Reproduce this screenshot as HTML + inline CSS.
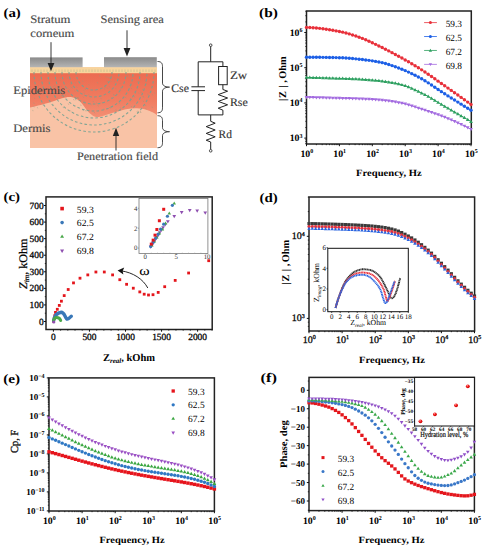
<!DOCTYPE html>
<html><head><meta charset="utf-8"><title>Skin impedance figure</title>
<style>
html,body{margin:0;padding:0;background:#fff;}
body{width:483px;height:550px;overflow:hidden;}
svg{display:block;font-family:"Liberation Serif", serif;text-rendering:geometricPrecision;}
</style></head>
<body>
<svg width="483" height="550" viewBox="0 0 483 550">
<rect width="483" height="550" fill="#fff"/>
<text x="3.5" y="16.6" font-size="13" font-weight="bold" textLength="17.3" lengthAdjust="spacingAndGlyphs">(a)</text>
<text x="30.2" y="23.1" font-size="11.5" fill="#484848" textLength="40.2" lengthAdjust="spacingAndGlyphs" stroke="#484848" stroke-width="0.15">Stratum</text>
<text x="30.3" y="36.6" font-size="11.5" fill="#484848" textLength="44" lengthAdjust="spacingAndGlyphs" stroke="#484848" stroke-width="0.15">corneum</text>
<text x="100.5" y="23.1" font-size="11.5" fill="#484848" textLength="63.2" lengthAdjust="spacingAndGlyphs" stroke="#484848" stroke-width="0.15">Sensing area</text>
<defs><linearGradient id="elg" x1="0" y1="0" x2="0" y2="1"><stop offset="0" stop-color="#8a8a8a"/><stop offset="1" stop-color="#b4b4b4"/></linearGradient><linearGradient id="epg" x1="0" y1="0" x2="0" y2="1"><stop offset="0" stop-color="#ec6c51"/><stop offset="0.6" stop-color="#f07c60"/><stop offset="1" stop-color="#f38e73"/></linearGradient><clipPath id="skinclip"><rect x="30" y="67.2" width="127" height="80.8"/></clipPath></defs>
<rect x="30" y="67.2" width="127" height="80.8" fill="#f9c3a6"/>
<path d="M30 73 L157 73 L157 115.2 C155.33 113.5 150.33 111 147 110 C143.67 109 140.5 108.33 137 108.2 C133.5 108.07 130 108.43 126 109.2 C122 109.97 117.17 111.6 113 112.8 C108.83 114 104.08 115.8 101 116.4 C97.92 117 96.67 117.22 94.5 116.4 C92.33 115.58 90.42 113.98 88 111.5 C85.58 109.02 82.83 103.9 80 101.5 C77.17 99.1 74 97.63 71 97.1 C68 96.57 65.83 97.32 62 98.3 C58.17 99.28 53.33 101.47 48 103 C42.67 104.53 33 106.75 30 107.5 Z" fill="url(#epg)"/>
<rect x="30" y="67.2" width="127" height="6" fill="#f8d49c"/>
<line x1="32" y1="69.5" x2="32" y2="72" stroke="#a8b890" stroke-width="0.6" opacity="0.8"/>
<line x1="35" y1="69.5" x2="35" y2="72" stroke="#a8b890" stroke-width="0.6" opacity="0.8"/>
<line x1="38" y1="69.5" x2="38" y2="72" stroke="#a8b890" stroke-width="0.6" opacity="0.8"/>
<line x1="41" y1="69.5" x2="41" y2="72" stroke="#a8b890" stroke-width="0.6" opacity="0.8"/>
<line x1="44" y1="69.5" x2="44" y2="72" stroke="#a8b890" stroke-width="0.6" opacity="0.8"/>
<line x1="47" y1="69.5" x2="47" y2="72" stroke="#a8b890" stroke-width="0.6" opacity="0.8"/>
<line x1="50" y1="69.5" x2="50" y2="72" stroke="#a8b890" stroke-width="0.6" opacity="0.8"/>
<line x1="53" y1="69.5" x2="53" y2="72" stroke="#a8b890" stroke-width="0.6" opacity="0.8"/>
<line x1="56" y1="69.5" x2="56" y2="72" stroke="#a8b890" stroke-width="0.6" opacity="0.8"/>
<line x1="59" y1="69.5" x2="59" y2="72" stroke="#a8b890" stroke-width="0.6" opacity="0.8"/>
<line x1="62" y1="69.5" x2="62" y2="72" stroke="#a8b890" stroke-width="0.6" opacity="0.8"/>
<line x1="65" y1="69.5" x2="65" y2="72" stroke="#a8b890" stroke-width="0.6" opacity="0.8"/>
<line x1="68" y1="69.5" x2="68" y2="72" stroke="#a8b890" stroke-width="0.6" opacity="0.8"/>
<line x1="71" y1="69.5" x2="71" y2="72" stroke="#a8b890" stroke-width="0.6" opacity="0.8"/>
<line x1="74" y1="69.5" x2="74" y2="72" stroke="#a8b890" stroke-width="0.6" opacity="0.8"/>
<line x1="77" y1="69.5" x2="77" y2="72" stroke="#a8b890" stroke-width="0.6" opacity="0.8"/>
<line x1="80" y1="69.5" x2="80" y2="72" stroke="#a8b890" stroke-width="0.6" opacity="0.8"/>
<line x1="83" y1="69.5" x2="83" y2="72" stroke="#a8b890" stroke-width="0.6" opacity="0.8"/>
<line x1="86" y1="69.5" x2="86" y2="72" stroke="#a8b890" stroke-width="0.6" opacity="0.8"/>
<line x1="89" y1="69.5" x2="89" y2="72" stroke="#a8b890" stroke-width="0.6" opacity="0.8"/>
<line x1="92" y1="69.5" x2="92" y2="72" stroke="#a8b890" stroke-width="0.6" opacity="0.8"/>
<line x1="95" y1="69.5" x2="95" y2="72" stroke="#a8b890" stroke-width="0.6" opacity="0.8"/>
<line x1="98" y1="69.5" x2="98" y2="72" stroke="#a8b890" stroke-width="0.6" opacity="0.8"/>
<line x1="101" y1="69.5" x2="101" y2="72" stroke="#a8b890" stroke-width="0.6" opacity="0.8"/>
<line x1="104" y1="69.5" x2="104" y2="72" stroke="#a8b890" stroke-width="0.6" opacity="0.8"/>
<line x1="107" y1="69.5" x2="107" y2="72" stroke="#a8b890" stroke-width="0.6" opacity="0.8"/>
<line x1="110" y1="69.5" x2="110" y2="72" stroke="#a8b890" stroke-width="0.6" opacity="0.8"/>
<line x1="113" y1="69.5" x2="113" y2="72" stroke="#a8b890" stroke-width="0.6" opacity="0.8"/>
<line x1="116" y1="69.5" x2="116" y2="72" stroke="#a8b890" stroke-width="0.6" opacity="0.8"/>
<line x1="119" y1="69.5" x2="119" y2="72" stroke="#a8b890" stroke-width="0.6" opacity="0.8"/>
<line x1="122" y1="69.5" x2="122" y2="72" stroke="#a8b890" stroke-width="0.6" opacity="0.8"/>
<line x1="125" y1="69.5" x2="125" y2="72" stroke="#a8b890" stroke-width="0.6" opacity="0.8"/>
<line x1="128" y1="69.5" x2="128" y2="72" stroke="#a8b890" stroke-width="0.6" opacity="0.8"/>
<line x1="131" y1="69.5" x2="131" y2="72" stroke="#a8b890" stroke-width="0.6" opacity="0.8"/>
<line x1="134" y1="69.5" x2="134" y2="72" stroke="#a8b890" stroke-width="0.6" opacity="0.8"/>
<line x1="137" y1="69.5" x2="137" y2="72" stroke="#a8b890" stroke-width="0.6" opacity="0.8"/>
<line x1="140" y1="69.5" x2="140" y2="72" stroke="#a8b890" stroke-width="0.6" opacity="0.8"/>
<line x1="143" y1="69.5" x2="143" y2="72" stroke="#a8b890" stroke-width="0.6" opacity="0.8"/>
<line x1="146" y1="69.5" x2="146" y2="72" stroke="#a8b890" stroke-width="0.6" opacity="0.8"/>
<line x1="149" y1="69.5" x2="149" y2="72" stroke="#a8b890" stroke-width="0.6" opacity="0.8"/>
<line x1="152" y1="69.5" x2="152" y2="72" stroke="#a8b890" stroke-width="0.6" opacity="0.8"/>
<line x1="155" y1="69.5" x2="155" y2="72" stroke="#a8b890" stroke-width="0.6" opacity="0.8"/>
<path d="M61.27 95.14l0.6 1.3 M77.5 97.35l0.6 1.3 M108.96 77.42l0.6 1.3 M33.62 105.99l0.6 1.3 M63.9 83.67l0.6 1.3 M154.46 92.4l0.6 1.3 M134.88 92.63l0.6 1.3 M110.61 80.57l0.6 1.3 M110.09 107.12l0.6 1.3 M96.35 102.43l0.6 1.3 M114.58 77.37l0.6 1.3 M125.26 96.87l0.6 1.3 M69.06 76.15l0.6 1.3 M138.46 92.49l0.6 1.3 M120.42 107.52l0.6 1.3 M119.84 109.08l0.6 1.3 M80.58 104.63l0.6 1.3 M86.69 109.62l0.6 1.3 M140.1 78.61l0.6 1.3 M48.72 83.03l0.6 1.3 M150.75 91.14l0.6 1.3 M109.08 86.14l0.6 1.3 M94.39 89.28l0.6 1.3 M75.16 96.65l0.6 1.3 M103.86 108.46l0.6 1.3 M115.88 109.37l0.6 1.3 M137.34 111.67l0.6 1.3 M114.57 81.03l0.6 1.3 M137.86 110.69l0.6 1.3 M143.28 96.06l0.6 1.3 M119.8 82.81l0.6 1.3 M134.29 96.22l0.6 1.3 M67.05 77.35l0.6 1.3 M137.03 111.62l0.6 1.3 M42.89 104.62l0.6 1.3 M82.49 80.58l0.6 1.3 M68.15 103.45l0.6 1.3 M139.35 76.64l0.6 1.3 M107.59 76.66l0.6 1.3 M120.37 87.25l0.6 1.3 M140.35 111.28l0.6 1.3 M94.17 111.94l0.6 1.3 M70.09 77.85l0.6 1.3 M105.77 76.16l0.6 1.3 M56.28 90.09l0.6 1.3 M107.09 80.78l0.6 1.3 M37.22 107.11l0.6 1.3 M70.6 110.47l0.6 1.3 M142.29 88.98l0.6 1.3 M88.63 94.24l0.6 1.3 M111.2 97.04l0.6 1.3 M100.79 97.94l0.6 1.3 M147.7 93.76l0.6 1.3 M85.04 101.65l0.6 1.3 M61.23 86.14l0.6 1.3 M152.27 94.28l0.6 1.3 M99.46 75.42l0.6 1.3 M83.07 96.46l0.6 1.3 M34.47 97.78l0.6 1.3 M109.76 77.22l0.6 1.3 M109.16 92.25l0.6 1.3 M115.55 88.05l0.6 1.3 M118.95 102.31l0.6 1.3 M34.73 77.24l0.6 1.3 M115.15 110.64l0.6 1.3 M62.89 91.88l0.6 1.3 M104.9 86.84l0.6 1.3 M76.77 86.57l0.6 1.3 M77.41 97.04l0.6 1.3 M68.95 88.95l0.6 1.3 M126.99 76l0.6 1.3 M102.02 102.2l0.6 1.3 M70.13 83.23l0.6 1.3 M130.87 83.83l0.6 1.3 M55.05 91.1l0.6 1.3 M117.86 78.77l0.6 1.3 M71.6 87.35l0.6 1.3 M134.53 91.22l0.6 1.3 M137.23 81.26l0.6 1.3 M73.42 99.06l0.6 1.3 M140.84 91.69l0.6 1.3 M59.68 79.47l0.6 1.3 M97.14 82.06l0.6 1.3 M131.23 106.02l0.6 1.3 M54.58 85.31l0.6 1.3 M131.29 98.75l0.6 1.3 M131.17 87.78l0.6 1.3 M47.95 85.8l0.6 1.3 M129.65 85.03l0.6 1.3 M74.6 90.43l0.6 1.3 M83.63 90.15l0.6 1.3 M145.24 80.77l0.6 1.3 M32.57 109.9l0.6 1.3 M140.24 111.52l0.6 1.3 M85.43 110.16l0.6 1.3 M146.07 83.22l0.6 1.3 M123.7 105.96l0.6 1.3 M113.55 94.2l0.6 1.3 M67.55 87.62l0.6 1.3 M59.98 77.52l0.6 1.3 M104.41 85.62l0.6 1.3 M131.65 76.67l0.6 1.3 M143.14 100.67l0.6 1.3 M145.63 108.17l0.6 1.3 M142.66 96.35l0.6 1.3 M33.62 102.58l0.6 1.3 M53.13 86.1l0.6 1.3 M113.54 94.42l0.6 1.3 M82.89 109.74l0.6 1.3 M107.3 87.63l0.6 1.3 M63.05 106.88l0.6 1.3 M90.7 103.95l0.6 1.3 M75.28 82.3l0.6 1.3 M97.76 105.22l0.6 1.3 M53.07 104.29l0.6 1.3 M145.38 104.82l0.6 1.3 M133.29 75.28l0.6 1.3 M109.32 106.91l0.6 1.3 M38.14 85.04l0.6 1.3 M65.04 94.51l0.6 1.3 M84.03 92.5l0.6 1.3 M127.51 75.07l0.6 1.3 M38.74 79.69l0.6 1.3 M47.33 77.53l0.6 1.3 M151.89 106.61l0.6 1.3 M42.59 93.58l0.6 1.3 M70.86 86.64l0.6 1.3 M75.21 98.94l0.6 1.3 M104.15 88.35l0.6 1.3 M55.5 87.16l0.6 1.3 M47.22 95.55l0.6 1.3 M120.07 89.07l0.6 1.3 M41.83 81.61l0.6 1.3 M77.91 97.36l0.6 1.3 M128.26 89.07l0.6 1.3 M130.54 98.05l0.6 1.3 M85.09 88.78l0.6 1.3 M93.03 101.01l0.6 1.3 M83.72 100.68l0.6 1.3 M88.68 84.07l0.6 1.3" stroke="#8e9a80" stroke-width="0.8" opacity="0.55" fill="none" clip-path="url(#skinclip)"/>
<path d="M76 72 A18 18 0 0 0 112 72" fill="none" stroke="#74a293" stroke-width="1.05" stroke-dasharray="2.6 2.3" opacity="0.9" clip-path="url(#skinclip)"/><path d="M69 72 A25 25 0 0 0 119 72" fill="none" stroke="#74a293" stroke-width="1.05" stroke-dasharray="2.6 2.3" opacity="0.9" clip-path="url(#skinclip)"/><path d="M62 72 A32 32 0 0 0 126 72" fill="none" stroke="#74a293" stroke-width="1.05" stroke-dasharray="2.6 2.3" opacity="0.9" clip-path="url(#skinclip)"/><path d="M55 72 A39 39 0 0 0 133 72" fill="none" stroke="#74a293" stroke-width="1.05" stroke-dasharray="2.6 2.3" opacity="0.9" clip-path="url(#skinclip)"/><path d="M48 72 A46 46 0 0 0 140 72" fill="none" stroke="#74a293" stroke-width="1.05" stroke-dasharray="2.6 2.3" opacity="0.9" clip-path="url(#skinclip)"/><path d="M41 72 A53 53 0 0 0 147 72" fill="none" stroke="#74a293" stroke-width="1.05" stroke-dasharray="2.6 2.3" opacity="0.9" clip-path="url(#skinclip)"/><path d="M34 72 A60 60 0 0 0 154 72" fill="none" stroke="#74a293" stroke-width="1.05" stroke-dasharray="2.6 2.3" opacity="0.9" clip-path="url(#skinclip)"/>
<rect x="30" y="57.4" width="52.6" height="9.8" fill="url(#elg)"/>
<rect x="104" y="57.2" width="52.8" height="10" fill="url(#elg)"/>
<line x1="51" y1="42.2" x2="51" y2="66" stroke="#222" stroke-width="0.9"/>
<path d="M47.6 63 L54.4 63 L51 71.3 Z" fill="#222"/>
<line x1="127" y1="30.3" x2="127" y2="50" stroke="#222" stroke-width="0.9"/>
<path d="M123.6 48 L130.4 48 L127 56.6 Z" fill="#222"/>
<line x1="116" y1="134" x2="116" y2="150.5" stroke="#222" stroke-width="0.9"/>
<path d="M112.8 136 L119.2 136 L116 127.8 Z" fill="#222"/>
<text x="13.2" y="94.1" font-size="11.5" fill="#484848" textLength="52" lengthAdjust="spacingAndGlyphs" stroke="#484848" stroke-width="0.15">Epidermis</text>
<text x="13.2" y="131.7" font-size="11.5" fill="#484848" textLength="37.3" lengthAdjust="spacingAndGlyphs" stroke="#484848" stroke-width="0.15">Dermis</text>
<text x="76.9" y="160.4" font-size="11.5" fill="#484848" textLength="81.2" lengthAdjust="spacingAndGlyphs" stroke="#484848" stroke-width="0.15">Penetration field</text>
<path d="M157.5 61.5 C161.5 61.5 162.5 63.5 162.5 66.5 L162.5 83.15 C162.5 86.15 166.5 87.15 169.5 87.15 C166.5 87.15 162.5 88.15 162.5 91.15 L162.5 107.8 C162.5 110.8 161.5 112.8 157.5 112.8" fill="none" stroke="#333" stroke-width="0.9"/>
<path d="M157.5 115.7 C161.5 115.7 162.5 117.7 162.5 120.7 L162.5 127.69999999999999 C162.5 130.7 166.5 131.7 169.5 131.7 C166.5 131.7 162.5 132.7 162.5 135.7 L162.5 142.7 C162.5 145.7 161.5 147.7 157.5 147.7" fill="none" stroke="#333" stroke-width="0.9"/>
<text x="171.3" y="92.1" font-size="11.5" fill="#333" textLength="17.6" lengthAdjust="spacingAndGlyphs" stroke="#333" stroke-width="0.15">Cse</text>
<circle cx="210.7" cy="45.2" r="1.3" fill="white" stroke="#222" stroke-width="0.8"/>
<line x1="210.7" y1="46.5" x2="210.7" y2="61.8" stroke="#222" stroke-width="1.0"/>
<line x1="198.2" y1="61.8" x2="222.9" y2="61.8" stroke="#222" stroke-width="1.0"/>
<line x1="198.2" y1="61.8" x2="198.2" y2="86.8" stroke="#222" stroke-width="1.0"/>
<line x1="198.2" y1="90.6" x2="198.2" y2="114.9" stroke="#222" stroke-width="1.0"/>
<line x1="191.4" y1="86.8" x2="205" y2="86.8" stroke="#222" stroke-width="1.0"/>
<line x1="191.4" y1="90.6" x2="205" y2="90.6" stroke="#222" stroke-width="1.0"/>
<line x1="222.9" y1="61.8" x2="222.9" y2="66.5" stroke="#222" stroke-width="1.0"/>
<rect x="218.6" y="66.5" width="8.6" height="18.2" fill="none" stroke="#222" stroke-width="1.0"/>
<line x1="222.9" y1="84.7" x2="222.9" y2="89.5" stroke="#222" stroke-width="1.0"/>
<path d="M222.9 89.5 L227.6 91.2 L218.2 94.6 L227.6 98.0 L218.2 101.4 L227.6 104.8 L218.2 108.2 L222.9 110.2" fill="none" stroke="#222" stroke-width="1.0"/>
<line x1="222.9" y1="110.2" x2="222.9" y2="114.9" stroke="#222" stroke-width="1.0"/>
<line x1="198.2" y1="114.9" x2="222.9" y2="114.9" stroke="#222" stroke-width="1.0"/>
<line x1="210.7" y1="114.9" x2="210.7" y2="121.3" stroke="#222" stroke-width="1.0"/>
<path d="M210.7 121.3 L215.2 123.2 L206.2 126.6 L215.2 130.0 L206.2 133.4 L215.2 136.8 L206.2 140.2 L210.7 142.0" fill="none" stroke="#222" stroke-width="1.0"/>
<line x1="210.7" y1="142" x2="210.7" y2="149.5" stroke="#222" stroke-width="1.0"/>
<circle cx="210.7" cy="150.8" r="1.3" fill="white" stroke="#222" stroke-width="0.8"/>
<text x="229.9" y="79.3" font-size="11.5" fill="#333" textLength="17.3" lengthAdjust="spacingAndGlyphs" stroke="#333" stroke-width="0.15">Zw</text>
<text x="229.9" y="106.3" font-size="11.5" fill="#333" textLength="17.8" lengthAdjust="spacingAndGlyphs" stroke="#333" stroke-width="0.15">Rse</text>
<text x="218.6" y="138" font-size="11.5" fill="#333" textLength="13.4" lengthAdjust="spacingAndGlyphs" stroke="#333" stroke-width="0.15">Rd</text>
<text x="259.1" y="16.8" font-size="13" font-weight="bold" textLength="18.8" lengthAdjust="spacingAndGlyphs">(b)</text>
<rect x="306.5" y="11" width="164.8" height="133" fill="none" stroke="#222" stroke-width="1.5"/>
<line x1="306.5" y1="144" x2="306.5" y2="146.2" stroke="#111" stroke-width="1"/>
<line x1="316.4" y1="144" x2="316.4" y2="145.2" stroke="#111" stroke-width="0.8"/>
<line x1="322.2" y1="144" x2="322.2" y2="145.2" stroke="#111" stroke-width="0.8"/>
<line x1="326.31" y1="144" x2="326.31" y2="145.2" stroke="#111" stroke-width="0.8"/>
<line x1="329.5" y1="144" x2="329.5" y2="145.2" stroke="#111" stroke-width="0.8"/>
<line x1="332.1" y1="144" x2="332.1" y2="145.2" stroke="#111" stroke-width="0.8"/>
<line x1="334.3" y1="144" x2="334.3" y2="145.2" stroke="#111" stroke-width="0.8"/>
<line x1="336.21" y1="144" x2="336.21" y2="145.2" stroke="#111" stroke-width="0.8"/>
<line x1="337.89" y1="144" x2="337.89" y2="145.2" stroke="#111" stroke-width="0.8"/>
<line x1="339.4" y1="144" x2="339.4" y2="146.2" stroke="#111" stroke-width="1"/>
<line x1="349.3" y1="144" x2="349.3" y2="145.2" stroke="#111" stroke-width="0.8"/>
<line x1="355.1" y1="144" x2="355.1" y2="145.2" stroke="#111" stroke-width="0.8"/>
<line x1="359.21" y1="144" x2="359.21" y2="145.2" stroke="#111" stroke-width="0.8"/>
<line x1="362.4" y1="144" x2="362.4" y2="145.2" stroke="#111" stroke-width="0.8"/>
<line x1="365" y1="144" x2="365" y2="145.2" stroke="#111" stroke-width="0.8"/>
<line x1="367.2" y1="144" x2="367.2" y2="145.2" stroke="#111" stroke-width="0.8"/>
<line x1="369.11" y1="144" x2="369.11" y2="145.2" stroke="#111" stroke-width="0.8"/>
<line x1="370.79" y1="144" x2="370.79" y2="145.2" stroke="#111" stroke-width="0.8"/>
<line x1="372.3" y1="144" x2="372.3" y2="146.2" stroke="#111" stroke-width="1"/>
<line x1="382.2" y1="144" x2="382.2" y2="145.2" stroke="#111" stroke-width="0.8"/>
<line x1="388" y1="144" x2="388" y2="145.2" stroke="#111" stroke-width="0.8"/>
<line x1="392.11" y1="144" x2="392.11" y2="145.2" stroke="#111" stroke-width="0.8"/>
<line x1="395.3" y1="144" x2="395.3" y2="145.2" stroke="#111" stroke-width="0.8"/>
<line x1="397.9" y1="144" x2="397.9" y2="145.2" stroke="#111" stroke-width="0.8"/>
<line x1="400.1" y1="144" x2="400.1" y2="145.2" stroke="#111" stroke-width="0.8"/>
<line x1="402.01" y1="144" x2="402.01" y2="145.2" stroke="#111" stroke-width="0.8"/>
<line x1="403.69" y1="144" x2="403.69" y2="145.2" stroke="#111" stroke-width="0.8"/>
<line x1="405.2" y1="144" x2="405.2" y2="146.2" stroke="#111" stroke-width="1"/>
<line x1="415.1" y1="144" x2="415.1" y2="145.2" stroke="#111" stroke-width="0.8"/>
<line x1="420.9" y1="144" x2="420.9" y2="145.2" stroke="#111" stroke-width="0.8"/>
<line x1="425.01" y1="144" x2="425.01" y2="145.2" stroke="#111" stroke-width="0.8"/>
<line x1="428.2" y1="144" x2="428.2" y2="145.2" stroke="#111" stroke-width="0.8"/>
<line x1="430.8" y1="144" x2="430.8" y2="145.2" stroke="#111" stroke-width="0.8"/>
<line x1="433" y1="144" x2="433" y2="145.2" stroke="#111" stroke-width="0.8"/>
<line x1="434.91" y1="144" x2="434.91" y2="145.2" stroke="#111" stroke-width="0.8"/>
<line x1="436.59" y1="144" x2="436.59" y2="145.2" stroke="#111" stroke-width="0.8"/>
<line x1="438.1" y1="144" x2="438.1" y2="146.2" stroke="#111" stroke-width="1"/>
<line x1="448" y1="144" x2="448" y2="145.2" stroke="#111" stroke-width="0.8"/>
<line x1="453.8" y1="144" x2="453.8" y2="145.2" stroke="#111" stroke-width="0.8"/>
<line x1="457.91" y1="144" x2="457.91" y2="145.2" stroke="#111" stroke-width="0.8"/>
<line x1="461.1" y1="144" x2="461.1" y2="145.2" stroke="#111" stroke-width="0.8"/>
<line x1="463.7" y1="144" x2="463.7" y2="145.2" stroke="#111" stroke-width="0.8"/>
<line x1="465.9" y1="144" x2="465.9" y2="145.2" stroke="#111" stroke-width="0.8"/>
<line x1="467.81" y1="144" x2="467.81" y2="145.2" stroke="#111" stroke-width="0.8"/>
<line x1="469.49" y1="144" x2="469.49" y2="145.2" stroke="#111" stroke-width="0.8"/>
<line x1="471" y1="144" x2="471" y2="146.2" stroke="#111" stroke-width="1"/>
<line x1="305.3" y1="143.55" x2="306.5" y2="143.55" stroke="#111" stroke-width="0.8"/>
<line x1="305.3" y1="141.51" x2="306.5" y2="141.51" stroke="#111" stroke-width="0.8"/>
<line x1="305.3" y1="139.71" x2="306.5" y2="139.71" stroke="#111" stroke-width="0.8"/>
<line x1="304.3" y1="138.1" x2="306.5" y2="138.1" stroke="#111" stroke-width="1"/>
<line x1="305.3" y1="127.5" x2="306.5" y2="127.5" stroke="#111" stroke-width="0.8"/>
<line x1="305.3" y1="121.31" x2="306.5" y2="121.31" stroke="#111" stroke-width="0.8"/>
<line x1="305.3" y1="116.91" x2="306.5" y2="116.91" stroke="#111" stroke-width="0.8"/>
<line x1="305.3" y1="113.5" x2="306.5" y2="113.5" stroke="#111" stroke-width="0.8"/>
<line x1="305.3" y1="110.71" x2="306.5" y2="110.71" stroke="#111" stroke-width="0.8"/>
<line x1="305.3" y1="108.35" x2="306.5" y2="108.35" stroke="#111" stroke-width="0.8"/>
<line x1="305.3" y1="106.31" x2="306.5" y2="106.31" stroke="#111" stroke-width="0.8"/>
<line x1="305.3" y1="104.51" x2="306.5" y2="104.51" stroke="#111" stroke-width="0.8"/>
<line x1="304.3" y1="102.9" x2="306.5" y2="102.9" stroke="#111" stroke-width="1"/>
<line x1="305.3" y1="92.3" x2="306.5" y2="92.3" stroke="#111" stroke-width="0.8"/>
<line x1="305.3" y1="86.11" x2="306.5" y2="86.11" stroke="#111" stroke-width="0.8"/>
<line x1="305.3" y1="81.71" x2="306.5" y2="81.71" stroke="#111" stroke-width="0.8"/>
<line x1="305.3" y1="78.3" x2="306.5" y2="78.3" stroke="#111" stroke-width="0.8"/>
<line x1="305.3" y1="75.51" x2="306.5" y2="75.51" stroke="#111" stroke-width="0.8"/>
<line x1="305.3" y1="73.15" x2="306.5" y2="73.15" stroke="#111" stroke-width="0.8"/>
<line x1="305.3" y1="71.11" x2="306.5" y2="71.11" stroke="#111" stroke-width="0.8"/>
<line x1="305.3" y1="69.31" x2="306.5" y2="69.31" stroke="#111" stroke-width="0.8"/>
<line x1="304.3" y1="67.7" x2="306.5" y2="67.7" stroke="#111" stroke-width="1"/>
<line x1="305.3" y1="57.1" x2="306.5" y2="57.1" stroke="#111" stroke-width="0.8"/>
<line x1="305.3" y1="50.91" x2="306.5" y2="50.91" stroke="#111" stroke-width="0.8"/>
<line x1="305.3" y1="46.51" x2="306.5" y2="46.51" stroke="#111" stroke-width="0.8"/>
<line x1="305.3" y1="43.1" x2="306.5" y2="43.1" stroke="#111" stroke-width="0.8"/>
<line x1="305.3" y1="40.31" x2="306.5" y2="40.31" stroke="#111" stroke-width="0.8"/>
<line x1="305.3" y1="37.95" x2="306.5" y2="37.95" stroke="#111" stroke-width="0.8"/>
<line x1="305.3" y1="35.91" x2="306.5" y2="35.91" stroke="#111" stroke-width="0.8"/>
<line x1="305.3" y1="34.11" x2="306.5" y2="34.11" stroke="#111" stroke-width="0.8"/>
<line x1="304.3" y1="32.5" x2="306.5" y2="32.5" stroke="#111" stroke-width="1"/>
<line x1="305.3" y1="21.9" x2="306.5" y2="21.9" stroke="#111" stroke-width="0.8"/>
<line x1="305.3" y1="15.71" x2="306.5" y2="15.71" stroke="#111" stroke-width="0.8"/>
<line x1="305.3" y1="11.31" x2="306.5" y2="11.31" stroke="#111" stroke-width="0.8"/>
<text x="306.8" y="156.6" font-size="9.8" font-weight="bold" text-anchor="middle">10<tspan font-size="6" dy="-3.6">0</tspan></text>
<text x="339.7" y="156.6" font-size="9.8" font-weight="bold" text-anchor="middle">10<tspan font-size="6" dy="-3.6">1</tspan></text>
<text x="372.6" y="156.6" font-size="9.8" font-weight="bold" text-anchor="middle">10<tspan font-size="6" dy="-3.6">2</tspan></text>
<text x="405.5" y="156.6" font-size="9.8" font-weight="bold" text-anchor="middle">10<tspan font-size="6" dy="-3.6">3</tspan></text>
<text x="438.4" y="156.6" font-size="9.8" font-weight="bold" text-anchor="middle">10<tspan font-size="6" dy="-3.6">4</tspan></text>
<text x="471.3" y="156.6" font-size="9.8" font-weight="bold" text-anchor="middle">10<tspan font-size="6" dy="-3.6">5</tspan></text>
<text x="302.5" y="35.5" font-size="9.8" font-weight="bold" text-anchor="end">10<tspan font-size="6" dy="-3.6">6</tspan></text>
<text x="302.5" y="70.7" font-size="9.8" font-weight="bold" text-anchor="end">10<tspan font-size="6" dy="-3.6">5</tspan></text>
<text x="302.5" y="105.9" font-size="9.8" font-weight="bold" text-anchor="end">10<tspan font-size="6" dy="-3.6">4</tspan></text>
<text x="302.5" y="141.1" font-size="9.8" font-weight="bold" text-anchor="end">10<tspan font-size="6" dy="-3.6">3</tspan></text>
<text x="356.1" y="175.6" font-size="9.5" font-weight="bold" textLength="65.7" lengthAdjust="spacingAndGlyphs">Frequency, Hz</text>
<text x="285.9" y="100.9" font-size="10.3" font-weight="bold" transform="rotate(-90 285.9 100.9)">|<tspan dx="0.6">Z</tspan><tspan dx="3.4">|</tspan><tspan dx="2.6">,</tspan><tspan dx="1.5">Ohm</tspan></text>
<path d="M306.5 27.4 L309.79 27.51 L313.08 27.71 L316.37 28 L319.66 28.36 L322.95 28.78 L326.24 29.25 L329.53 29.77 L332.82 30.32 L336.11 30.9 L339.4 31.49 L342.69 32.15 L345.98 32.96 L349.27 33.89 L352.56 34.93 L355.85 36.04 L359.14 37.19 L362.43 38.41 L365.72 39.76 L369.01 41.22 L372.3 42.76 L375.59 44.35 L378.88 45.96 L382.17 47.56 L385.46 49.22 L388.75 50.92 L392.04 52.66 L395.33 54.43 L398.62 56.24 L401.91 58.07 L405.2 59.93 L408.49 61.82 L411.78 63.76 L415.07 65.74 L418.36 67.77 L421.65 69.86 L424.94 72.02 L428.23 74.24 L431.52 76.51 L434.81 78.81 L438.1 81.14 L441.39 83.46 L444.68 85.78 L447.97 88.08 L451.26 90.39 L454.55 92.72 L457.84 95.05 L461.13 97.4 L464.42 99.75 L467.71 102.11 L471 104.48" fill="none" stroke="#e8303a" stroke-width="1"/>
<circle cx="306.5" cy="27.4" r="1.7" fill="#e8303a"/>
<circle cx="309.79" cy="27.51" r="1.7" fill="#e8303a"/>
<circle cx="313.08" cy="27.71" r="1.7" fill="#e8303a"/>
<circle cx="316.37" cy="28" r="1.7" fill="#e8303a"/>
<circle cx="319.66" cy="28.36" r="1.7" fill="#e8303a"/>
<circle cx="322.95" cy="28.78" r="1.7" fill="#e8303a"/>
<circle cx="326.24" cy="29.25" r="1.7" fill="#e8303a"/>
<circle cx="329.53" cy="29.77" r="1.7" fill="#e8303a"/>
<circle cx="332.82" cy="30.32" r="1.7" fill="#e8303a"/>
<circle cx="336.11" cy="30.9" r="1.7" fill="#e8303a"/>
<circle cx="339.4" cy="31.49" r="1.7" fill="#e8303a"/>
<circle cx="342.69" cy="32.15" r="1.7" fill="#e8303a"/>
<circle cx="345.98" cy="32.96" r="1.7" fill="#e8303a"/>
<circle cx="349.27" cy="33.89" r="1.7" fill="#e8303a"/>
<circle cx="352.56" cy="34.93" r="1.7" fill="#e8303a"/>
<circle cx="355.85" cy="36.04" r="1.7" fill="#e8303a"/>
<circle cx="359.14" cy="37.19" r="1.7" fill="#e8303a"/>
<circle cx="362.43" cy="38.41" r="1.7" fill="#e8303a"/>
<circle cx="365.72" cy="39.76" r="1.7" fill="#e8303a"/>
<circle cx="369.01" cy="41.22" r="1.7" fill="#e8303a"/>
<circle cx="372.3" cy="42.76" r="1.7" fill="#e8303a"/>
<circle cx="375.59" cy="44.35" r="1.7" fill="#e8303a"/>
<circle cx="378.88" cy="45.96" r="1.7" fill="#e8303a"/>
<circle cx="382.17" cy="47.56" r="1.7" fill="#e8303a"/>
<circle cx="385.46" cy="49.22" r="1.7" fill="#e8303a"/>
<circle cx="388.75" cy="50.92" r="1.7" fill="#e8303a"/>
<circle cx="392.04" cy="52.66" r="1.7" fill="#e8303a"/>
<circle cx="395.33" cy="54.43" r="1.7" fill="#e8303a"/>
<circle cx="398.62" cy="56.24" r="1.7" fill="#e8303a"/>
<circle cx="401.91" cy="58.07" r="1.7" fill="#e8303a"/>
<circle cx="405.2" cy="59.93" r="1.7" fill="#e8303a"/>
<circle cx="408.49" cy="61.82" r="1.7" fill="#e8303a"/>
<circle cx="411.78" cy="63.76" r="1.7" fill="#e8303a"/>
<circle cx="415.07" cy="65.74" r="1.7" fill="#e8303a"/>
<circle cx="418.36" cy="67.77" r="1.7" fill="#e8303a"/>
<circle cx="421.65" cy="69.86" r="1.7" fill="#e8303a"/>
<circle cx="424.94" cy="72.02" r="1.7" fill="#e8303a"/>
<circle cx="428.23" cy="74.24" r="1.7" fill="#e8303a"/>
<circle cx="431.52" cy="76.51" r="1.7" fill="#e8303a"/>
<circle cx="434.81" cy="78.81" r="1.7" fill="#e8303a"/>
<circle cx="438.1" cy="81.14" r="1.7" fill="#e8303a"/>
<circle cx="441.39" cy="83.46" r="1.7" fill="#e8303a"/>
<circle cx="444.68" cy="85.78" r="1.7" fill="#e8303a"/>
<circle cx="447.97" cy="88.08" r="1.7" fill="#e8303a"/>
<circle cx="451.26" cy="90.39" r="1.7" fill="#e8303a"/>
<circle cx="454.55" cy="92.72" r="1.7" fill="#e8303a"/>
<circle cx="457.84" cy="95.05" r="1.7" fill="#e8303a"/>
<circle cx="461.13" cy="97.4" r="1.7" fill="#e8303a"/>
<circle cx="464.42" cy="99.75" r="1.7" fill="#e8303a"/>
<circle cx="467.71" cy="102.11" r="1.7" fill="#e8303a"/>
<circle cx="471" cy="104.48" r="1.7" fill="#e8303a"/>
<path d="M306.5 57.2 L309.79 57.21 L313.08 57.22 L316.37 57.25 L319.66 57.29 L322.95 57.33 L326.24 57.39 L329.53 57.45 L332.82 57.52 L336.11 57.6 L339.4 57.68 L342.69 57.8 L345.98 57.99 L349.27 58.25 L352.56 58.54 L355.85 58.87 L359.14 59.21 L362.43 59.56 L365.72 59.94 L369.01 60.37 L372.3 60.85 L375.59 61.39 L378.88 61.98 L382.17 62.67 L385.46 63.52 L388.75 64.5 L392.04 65.59 L395.33 66.76 L398.62 67.98 L401.91 69.24 L405.2 70.61 L408.49 72.08 L411.78 73.65 L415.07 75.3 L418.36 77.02 L421.65 78.81 L424.94 80.76 L428.23 82.83 L431.52 85 L434.81 87.21 L438.1 89.44 L441.39 91.65 L444.68 93.8 L447.97 95.89 L451.26 97.97 L454.55 100.04 L457.84 102.11 L461.13 104.17 L464.42 106.23 L467.71 108.27 L471 110.31" fill="none" stroke="#1c5fe6" stroke-width="1"/>
<circle cx="306.5" cy="57.2" r="1.7" fill="#1c5fe6"/>
<circle cx="309.79" cy="57.21" r="1.7" fill="#1c5fe6"/>
<circle cx="313.08" cy="57.22" r="1.7" fill="#1c5fe6"/>
<circle cx="316.37" cy="57.25" r="1.7" fill="#1c5fe6"/>
<circle cx="319.66" cy="57.29" r="1.7" fill="#1c5fe6"/>
<circle cx="322.95" cy="57.33" r="1.7" fill="#1c5fe6"/>
<circle cx="326.24" cy="57.39" r="1.7" fill="#1c5fe6"/>
<circle cx="329.53" cy="57.45" r="1.7" fill="#1c5fe6"/>
<circle cx="332.82" cy="57.52" r="1.7" fill="#1c5fe6"/>
<circle cx="336.11" cy="57.6" r="1.7" fill="#1c5fe6"/>
<circle cx="339.4" cy="57.68" r="1.7" fill="#1c5fe6"/>
<circle cx="342.69" cy="57.8" r="1.7" fill="#1c5fe6"/>
<circle cx="345.98" cy="57.99" r="1.7" fill="#1c5fe6"/>
<circle cx="349.27" cy="58.25" r="1.7" fill="#1c5fe6"/>
<circle cx="352.56" cy="58.54" r="1.7" fill="#1c5fe6"/>
<circle cx="355.85" cy="58.87" r="1.7" fill="#1c5fe6"/>
<circle cx="359.14" cy="59.21" r="1.7" fill="#1c5fe6"/>
<circle cx="362.43" cy="59.56" r="1.7" fill="#1c5fe6"/>
<circle cx="365.72" cy="59.94" r="1.7" fill="#1c5fe6"/>
<circle cx="369.01" cy="60.37" r="1.7" fill="#1c5fe6"/>
<circle cx="372.3" cy="60.85" r="1.7" fill="#1c5fe6"/>
<circle cx="375.59" cy="61.39" r="1.7" fill="#1c5fe6"/>
<circle cx="378.88" cy="61.98" r="1.7" fill="#1c5fe6"/>
<circle cx="382.17" cy="62.67" r="1.7" fill="#1c5fe6"/>
<circle cx="385.46" cy="63.52" r="1.7" fill="#1c5fe6"/>
<circle cx="388.75" cy="64.5" r="1.7" fill="#1c5fe6"/>
<circle cx="392.04" cy="65.59" r="1.7" fill="#1c5fe6"/>
<circle cx="395.33" cy="66.76" r="1.7" fill="#1c5fe6"/>
<circle cx="398.62" cy="67.98" r="1.7" fill="#1c5fe6"/>
<circle cx="401.91" cy="69.24" r="1.7" fill="#1c5fe6"/>
<circle cx="405.2" cy="70.61" r="1.7" fill="#1c5fe6"/>
<circle cx="408.49" cy="72.08" r="1.7" fill="#1c5fe6"/>
<circle cx="411.78" cy="73.65" r="1.7" fill="#1c5fe6"/>
<circle cx="415.07" cy="75.3" r="1.7" fill="#1c5fe6"/>
<circle cx="418.36" cy="77.02" r="1.7" fill="#1c5fe6"/>
<circle cx="421.65" cy="78.81" r="1.7" fill="#1c5fe6"/>
<circle cx="424.94" cy="80.76" r="1.7" fill="#1c5fe6"/>
<circle cx="428.23" cy="82.83" r="1.7" fill="#1c5fe6"/>
<circle cx="431.52" cy="85" r="1.7" fill="#1c5fe6"/>
<circle cx="434.81" cy="87.21" r="1.7" fill="#1c5fe6"/>
<circle cx="438.1" cy="89.44" r="1.7" fill="#1c5fe6"/>
<circle cx="441.39" cy="91.65" r="1.7" fill="#1c5fe6"/>
<circle cx="444.68" cy="93.8" r="1.7" fill="#1c5fe6"/>
<circle cx="447.97" cy="95.89" r="1.7" fill="#1c5fe6"/>
<circle cx="451.26" cy="97.97" r="1.7" fill="#1c5fe6"/>
<circle cx="454.55" cy="100.04" r="1.7" fill="#1c5fe6"/>
<circle cx="457.84" cy="102.11" r="1.7" fill="#1c5fe6"/>
<circle cx="461.13" cy="104.17" r="1.7" fill="#1c5fe6"/>
<circle cx="464.42" cy="106.23" r="1.7" fill="#1c5fe6"/>
<circle cx="467.71" cy="108.27" r="1.7" fill="#1c5fe6"/>
<circle cx="471" cy="110.31" r="1.7" fill="#1c5fe6"/>
<path d="M306.5 77.4 L309.79 77.48 L313.08 77.56 L316.37 77.65 L319.66 77.75 L322.95 77.84 L326.24 77.95 L329.53 78.05 L332.82 78.16 L336.11 78.27 L339.4 78.38 L342.69 78.49 L345.98 78.61 L349.27 78.72 L352.56 78.85 L355.85 78.99 L359.14 79.15 L362.43 79.34 L365.72 79.55 L369.01 79.8 L372.3 80.07 L375.59 80.38 L378.88 80.72 L382.17 81.09 L385.46 81.52 L388.75 82.02 L392.04 82.59 L395.33 83.23 L398.62 83.95 L401.91 84.75 L405.2 85.71 L408.49 86.91 L411.78 88.3 L415.07 89.81 L418.36 91.41 L421.65 93.03 L424.94 94.68 L428.23 96.47 L431.52 98.38 L434.81 100.35 L438.1 102.36 L441.39 104.36 L444.68 106.31 L447.97 108.22 L451.26 110.13 L454.55 112.03 L457.84 113.93 L461.13 115.83 L464.42 117.73 L467.71 119.63 L471 121.53" fill="none" stroke="#2ea060" stroke-width="1"/>
<path d="M306.5 75.53L308.37 78.76L304.63 78.76Z" fill="#2ea060"/>
<path d="M309.79 75.61L311.66 78.84L307.92 78.84Z" fill="#2ea060"/>
<path d="M313.08 75.69L314.95 78.92L311.21 78.92Z" fill="#2ea060"/>
<path d="M316.37 75.78L318.24 79.01L314.5 79.01Z" fill="#2ea060"/>
<path d="M319.66 75.88L321.53 79.11L317.79 79.11Z" fill="#2ea060"/>
<path d="M322.95 75.97L324.82 79.2L321.08 79.2Z" fill="#2ea060"/>
<path d="M326.24 76.08L328.11 79.31L324.37 79.31Z" fill="#2ea060"/>
<path d="M329.53 76.18L331.4 79.41L327.66 79.41Z" fill="#2ea060"/>
<path d="M332.82 76.29L334.69 79.52L330.95 79.52Z" fill="#2ea060"/>
<path d="M336.11 76.4L337.98 79.63L334.24 79.63Z" fill="#2ea060"/>
<path d="M339.4 76.51L341.27 79.74L337.53 79.74Z" fill="#2ea060"/>
<path d="M342.69 76.62L344.56 79.85L340.82 79.85Z" fill="#2ea060"/>
<path d="M345.98 76.74L347.85 79.97L344.11 79.97Z" fill="#2ea060"/>
<path d="M349.27 76.85L351.14 80.08L347.4 80.08Z" fill="#2ea060"/>
<path d="M352.56 76.98L354.43 80.21L350.69 80.21Z" fill="#2ea060"/>
<path d="M355.85 77.12L357.72 80.35L353.98 80.35Z" fill="#2ea060"/>
<path d="M359.14 77.28L361.01 80.51L357.27 80.51Z" fill="#2ea060"/>
<path d="M362.43 77.47L364.3 80.7L360.56 80.7Z" fill="#2ea060"/>
<path d="M365.72 77.68L367.59 80.91L363.85 80.91Z" fill="#2ea060"/>
<path d="M369.01 77.93L370.88 81.16L367.14 81.16Z" fill="#2ea060"/>
<path d="M372.3 78.2L374.17 81.43L370.43 81.43Z" fill="#2ea060"/>
<path d="M375.59 78.51L377.46 81.74L373.72 81.74Z" fill="#2ea060"/>
<path d="M378.88 78.85L380.75 82.08L377.01 82.08Z" fill="#2ea060"/>
<path d="M382.17 79.22L384.04 82.45L380.3 82.45Z" fill="#2ea060"/>
<path d="M385.46 79.65L387.33 82.88L383.59 82.88Z" fill="#2ea060"/>
<path d="M388.75 80.15L390.62 83.38L386.88 83.38Z" fill="#2ea060"/>
<path d="M392.04 80.72L393.91 83.95L390.17 83.95Z" fill="#2ea060"/>
<path d="M395.33 81.36L397.2 84.59L393.46 84.59Z" fill="#2ea060"/>
<path d="M398.62 82.08L400.49 85.31L396.75 85.31Z" fill="#2ea060"/>
<path d="M401.91 82.88L403.78 86.11L400.04 86.11Z" fill="#2ea060"/>
<path d="M405.2 83.84L407.07 87.07L403.33 87.07Z" fill="#2ea060"/>
<path d="M408.49 85.04L410.36 88.27L406.62 88.27Z" fill="#2ea060"/>
<path d="M411.78 86.43L413.65 89.66L409.91 89.66Z" fill="#2ea060"/>
<path d="M415.07 87.94L416.94 91.17L413.2 91.17Z" fill="#2ea060"/>
<path d="M418.36 89.54L420.23 92.77L416.49 92.77Z" fill="#2ea060"/>
<path d="M421.65 91.16L423.52 94.39L419.78 94.39Z" fill="#2ea060"/>
<path d="M424.94 92.81L426.81 96.04L423.07 96.04Z" fill="#2ea060"/>
<path d="M428.23 94.6L430.1 97.83L426.36 97.83Z" fill="#2ea060"/>
<path d="M431.52 96.51L433.39 99.74L429.65 99.74Z" fill="#2ea060"/>
<path d="M434.81 98.48L436.68 101.71L432.94 101.71Z" fill="#2ea060"/>
<path d="M438.1 100.49L439.97 103.72L436.23 103.72Z" fill="#2ea060"/>
<path d="M441.39 102.49L443.26 105.72L439.52 105.72Z" fill="#2ea060"/>
<path d="M444.68 104.44L446.55 107.67L442.81 107.67Z" fill="#2ea060"/>
<path d="M447.97 106.35L449.84 109.58L446.1 109.58Z" fill="#2ea060"/>
<path d="M451.26 108.26L453.13 111.49L449.39 111.49Z" fill="#2ea060"/>
<path d="M454.55 110.16L456.42 113.39L452.68 113.39Z" fill="#2ea060"/>
<path d="M457.84 112.06L459.71 115.29L455.97 115.29Z" fill="#2ea060"/>
<path d="M461.13 113.96L463 117.19L459.26 117.19Z" fill="#2ea060"/>
<path d="M464.42 115.86L466.29 119.09L462.55 119.09Z" fill="#2ea060"/>
<path d="M467.71 117.76L469.58 120.99L465.84 120.99Z" fill="#2ea060"/>
<path d="M471 119.66L472.87 122.89L469.13 122.89Z" fill="#2ea060"/>
<path d="M306.5 97.3 L309.79 97.38 L313.08 97.47 L316.37 97.55 L319.66 97.64 L322.95 97.73 L326.24 97.82 L329.53 97.91 L332.82 98 L336.11 98.09 L339.4 98.18 L342.69 98.27 L345.98 98.36 L349.27 98.45 L352.56 98.54 L355.85 98.65 L359.14 98.77 L362.43 98.9 L365.72 99.05 L369.01 99.23 L372.3 99.42 L375.59 99.64 L378.88 99.89 L382.17 100.17 L385.46 100.51 L388.75 100.92 L392.04 101.4 L395.33 101.94 L398.62 102.53 L401.91 103.16 L405.2 103.9 L408.49 104.8 L411.78 105.81 L415.07 106.89 L418.36 108.01 L421.65 109.12 L424.94 110.2 L428.23 111.28 L431.52 112.38 L434.81 113.52 L438.1 114.68 L441.39 115.9 L444.68 117.17 L447.97 118.51 L451.26 119.9 L454.55 121.34 L457.84 122.84 L461.13 124.39 L464.42 125.99 L467.71 127.64 L471 129.34" fill="none" stroke="#a36be0" stroke-width="1"/>
<path d="M306.5 99.17L308.37 95.94L304.63 95.94Z" fill="#a36be0"/>
<path d="M309.79 99.25L311.66 96.02L307.92 96.02Z" fill="#a36be0"/>
<path d="M313.08 99.34L314.95 96.11L311.21 96.11Z" fill="#a36be0"/>
<path d="M316.37 99.42L318.24 96.19L314.5 96.19Z" fill="#a36be0"/>
<path d="M319.66 99.51L321.53 96.28L317.79 96.28Z" fill="#a36be0"/>
<path d="M322.95 99.6L324.82 96.37L321.08 96.37Z" fill="#a36be0"/>
<path d="M326.24 99.69L328.11 96.46L324.37 96.46Z" fill="#a36be0"/>
<path d="M329.53 99.78L331.4 96.55L327.66 96.55Z" fill="#a36be0"/>
<path d="M332.82 99.87L334.69 96.64L330.95 96.64Z" fill="#a36be0"/>
<path d="M336.11 99.96L337.98 96.73L334.24 96.73Z" fill="#a36be0"/>
<path d="M339.4 100.05L341.27 96.82L337.53 96.82Z" fill="#a36be0"/>
<path d="M342.69 100.14L344.56 96.91L340.82 96.91Z" fill="#a36be0"/>
<path d="M345.98 100.23L347.85 97L344.11 97Z" fill="#a36be0"/>
<path d="M349.27 100.32L351.14 97.09L347.4 97.09Z" fill="#a36be0"/>
<path d="M352.56 100.41L354.43 97.18L350.69 97.18Z" fill="#a36be0"/>
<path d="M355.85 100.52L357.72 97.29L353.98 97.29Z" fill="#a36be0"/>
<path d="M359.14 100.64L361.01 97.41L357.27 97.41Z" fill="#a36be0"/>
<path d="M362.43 100.77L364.3 97.54L360.56 97.54Z" fill="#a36be0"/>
<path d="M365.72 100.92L367.59 97.69L363.85 97.69Z" fill="#a36be0"/>
<path d="M369.01 101.1L370.88 97.87L367.14 97.87Z" fill="#a36be0"/>
<path d="M372.3 101.29L374.17 98.06L370.43 98.06Z" fill="#a36be0"/>
<path d="M375.59 101.51L377.46 98.28L373.72 98.28Z" fill="#a36be0"/>
<path d="M378.88 101.76L380.75 98.53L377.01 98.53Z" fill="#a36be0"/>
<path d="M382.17 102.04L384.04 98.81L380.3 98.81Z" fill="#a36be0"/>
<path d="M385.46 102.38L387.33 99.15L383.59 99.15Z" fill="#a36be0"/>
<path d="M388.75 102.79L390.62 99.56L386.88 99.56Z" fill="#a36be0"/>
<path d="M392.04 103.27L393.91 100.04L390.17 100.04Z" fill="#a36be0"/>
<path d="M395.33 103.81L397.2 100.58L393.46 100.58Z" fill="#a36be0"/>
<path d="M398.62 104.4L400.49 101.17L396.75 101.17Z" fill="#a36be0"/>
<path d="M401.91 105.03L403.78 101.8L400.04 101.8Z" fill="#a36be0"/>
<path d="M405.2 105.77L407.07 102.54L403.33 102.54Z" fill="#a36be0"/>
<path d="M408.49 106.67L410.36 103.44L406.62 103.44Z" fill="#a36be0"/>
<path d="M411.78 107.68L413.65 104.45L409.91 104.45Z" fill="#a36be0"/>
<path d="M415.07 108.76L416.94 105.53L413.2 105.53Z" fill="#a36be0"/>
<path d="M418.36 109.88L420.23 106.65L416.49 106.65Z" fill="#a36be0"/>
<path d="M421.65 110.99L423.52 107.76L419.78 107.76Z" fill="#a36be0"/>
<path d="M424.94 112.07L426.81 108.84L423.07 108.84Z" fill="#a36be0"/>
<path d="M428.23 113.15L430.1 109.92L426.36 109.92Z" fill="#a36be0"/>
<path d="M431.52 114.25L433.39 111.02L429.65 111.02Z" fill="#a36be0"/>
<path d="M434.81 115.39L436.68 112.16L432.94 112.16Z" fill="#a36be0"/>
<path d="M438.1 116.55L439.97 113.32L436.23 113.32Z" fill="#a36be0"/>
<path d="M441.39 117.77L443.26 114.54L439.52 114.54Z" fill="#a36be0"/>
<path d="M444.68 119.04L446.55 115.81L442.81 115.81Z" fill="#a36be0"/>
<path d="M447.97 120.38L449.84 117.15L446.1 117.15Z" fill="#a36be0"/>
<path d="M451.26 121.77L453.13 118.54L449.39 118.54Z" fill="#a36be0"/>
<path d="M454.55 123.21L456.42 119.98L452.68 119.98Z" fill="#a36be0"/>
<path d="M457.84 124.71L459.71 121.48L455.97 121.48Z" fill="#a36be0"/>
<path d="M461.13 126.26L463 123.03L459.26 123.03Z" fill="#a36be0"/>
<path d="M464.42 127.86L466.29 124.63L462.55 124.63Z" fill="#a36be0"/>
<path d="M467.71 129.51L469.58 126.28L465.84 126.28Z" fill="#a36be0"/>
<path d="M471 131.21L472.87 127.98L469.13 127.98Z" fill="#a36be0"/>
<line x1="424.1" y1="22.6" x2="436.9" y2="22.6" stroke="#e8303a" stroke-width="0.8"/>
<circle cx="430.4" cy="22.6" r="1.5" fill="#e8303a"/>
<text x="445.7" y="26.9" font-size="9.5" textLength="16.3" lengthAdjust="spacingAndGlyphs">59.3</text>
<line x1="424.1" y1="36.53" x2="436.9" y2="36.53" stroke="#1c5fe6" stroke-width="0.8"/>
<circle cx="430.4" cy="36.53" r="1.5" fill="#1c5fe6"/>
<text x="445.7" y="40.8" font-size="9.5" textLength="16.3" lengthAdjust="spacingAndGlyphs">62.5</text>
<line x1="424.1" y1="50.46" x2="436.9" y2="50.46" stroke="#2ea060" stroke-width="0.8"/>
<path d="M430.4 48.81L432.05 51.66L428.75 51.66Z" fill="#2ea060"/>
<text x="445.7" y="54.7" font-size="9.5" textLength="16.3" lengthAdjust="spacingAndGlyphs">67.2</text>
<line x1="424.1" y1="64.39" x2="436.9" y2="64.39" stroke="#a36be0" stroke-width="0.8"/>
<path d="M430.4 66.04L432.05 63.19L428.75 63.19Z" fill="#a36be0"/>
<text x="445.7" y="68.6" font-size="9.5" textLength="16.3" lengthAdjust="spacingAndGlyphs">69.8</text>
<text x="3.5" y="200.8" font-size="13" font-weight="bold" textLength="16.5" lengthAdjust="spacingAndGlyphs">(c)</text>
<rect x="46" y="196.9" width="166.2" height="132.6" fill="none" stroke="#222" stroke-width="1.5"/>
<line x1="43.8" y1="321.5" x2="46" y2="321.5" stroke="#111" stroke-width="1"/>
<text x="43.6" y="324.5" font-size="9.4" text-anchor="end" stroke="#111" stroke-width="0.3">0</text>
<line x1="44.8" y1="313.21" x2="46" y2="313.21" stroke="#111" stroke-width="0.8"/>
<line x1="43.8" y1="304.93" x2="46" y2="304.93" stroke="#111" stroke-width="1"/>
<text x="43.6" y="307.93" font-size="9.4" text-anchor="end" stroke="#111" stroke-width="0.3">100</text>
<line x1="44.8" y1="296.64" x2="46" y2="296.64" stroke="#111" stroke-width="0.8"/>
<line x1="43.8" y1="288.36" x2="46" y2="288.36" stroke="#111" stroke-width="1"/>
<text x="43.6" y="291.36" font-size="9.4" text-anchor="end" stroke="#111" stroke-width="0.3">200</text>
<line x1="44.8" y1="280.07" x2="46" y2="280.07" stroke="#111" stroke-width="0.8"/>
<line x1="43.8" y1="271.79" x2="46" y2="271.79" stroke="#111" stroke-width="1"/>
<text x="43.6" y="274.79" font-size="9.4" text-anchor="end" stroke="#111" stroke-width="0.3">300</text>
<line x1="44.8" y1="263.5" x2="46" y2="263.5" stroke="#111" stroke-width="0.8"/>
<line x1="43.8" y1="255.22" x2="46" y2="255.22" stroke="#111" stroke-width="1"/>
<text x="43.6" y="258.22" font-size="9.4" text-anchor="end" stroke="#111" stroke-width="0.3">400</text>
<line x1="44.8" y1="246.94" x2="46" y2="246.94" stroke="#111" stroke-width="0.8"/>
<line x1="43.8" y1="238.65" x2="46" y2="238.65" stroke="#111" stroke-width="1"/>
<text x="43.6" y="241.65" font-size="9.4" text-anchor="end" stroke="#111" stroke-width="0.3">500</text>
<line x1="44.8" y1="230.37" x2="46" y2="230.37" stroke="#111" stroke-width="0.8"/>
<line x1="43.8" y1="222.08" x2="46" y2="222.08" stroke="#111" stroke-width="1"/>
<text x="43.6" y="225.08" font-size="9.4" text-anchor="end" stroke="#111" stroke-width="0.3">600</text>
<line x1="44.8" y1="213.8" x2="46" y2="213.8" stroke="#111" stroke-width="0.8"/>
<line x1="43.8" y1="205.51" x2="46" y2="205.51" stroke="#111" stroke-width="1"/>
<text x="43.6" y="208.51" font-size="9.4" text-anchor="end" stroke="#111" stroke-width="0.3">700</text>
<line x1="53.4" y1="329.5" x2="53.4" y2="331.7" stroke="#111" stroke-width="1"/>
<text x="53.4" y="339.7" font-size="9.4" text-anchor="middle" stroke="#111" stroke-width="0.3">0</text>
<line x1="60.61" y1="329.5" x2="60.61" y2="330.7" stroke="#111" stroke-width="0.8"/>
<line x1="67.82" y1="329.5" x2="67.82" y2="330.7" stroke="#111" stroke-width="0.8"/>
<line x1="75.03" y1="329.5" x2="75.03" y2="330.7" stroke="#111" stroke-width="0.8"/>
<line x1="82.24" y1="329.5" x2="82.24" y2="330.7" stroke="#111" stroke-width="0.8"/>
<line x1="89.45" y1="329.5" x2="89.45" y2="331.7" stroke="#111" stroke-width="1"/>
<text x="89.45" y="339.7" font-size="9.4" text-anchor="middle" stroke="#111" stroke-width="0.3">500</text>
<line x1="96.66" y1="329.5" x2="96.66" y2="330.7" stroke="#111" stroke-width="0.8"/>
<line x1="103.87" y1="329.5" x2="103.87" y2="330.7" stroke="#111" stroke-width="0.8"/>
<line x1="111.08" y1="329.5" x2="111.08" y2="330.7" stroke="#111" stroke-width="0.8"/>
<line x1="118.29" y1="329.5" x2="118.29" y2="330.7" stroke="#111" stroke-width="0.8"/>
<line x1="125.5" y1="329.5" x2="125.5" y2="331.7" stroke="#111" stroke-width="1"/>
<text x="125.5" y="339.7" font-size="9.4" text-anchor="middle" stroke="#111" stroke-width="0.3">1000</text>
<line x1="132.71" y1="329.5" x2="132.71" y2="330.7" stroke="#111" stroke-width="0.8"/>
<line x1="139.92" y1="329.5" x2="139.92" y2="330.7" stroke="#111" stroke-width="0.8"/>
<line x1="147.13" y1="329.5" x2="147.13" y2="330.7" stroke="#111" stroke-width="0.8"/>
<line x1="154.34" y1="329.5" x2="154.34" y2="330.7" stroke="#111" stroke-width="0.8"/>
<line x1="161.55" y1="329.5" x2="161.55" y2="331.7" stroke="#111" stroke-width="1"/>
<text x="161.55" y="339.7" font-size="9.4" text-anchor="middle" stroke="#111" stroke-width="0.3">1500</text>
<line x1="168.76" y1="329.5" x2="168.76" y2="330.7" stroke="#111" stroke-width="0.8"/>
<line x1="175.97" y1="329.5" x2="175.97" y2="330.7" stroke="#111" stroke-width="0.8"/>
<line x1="183.18" y1="329.5" x2="183.18" y2="330.7" stroke="#111" stroke-width="0.8"/>
<line x1="190.39" y1="329.5" x2="190.39" y2="330.7" stroke="#111" stroke-width="0.8"/>
<line x1="197.6" y1="329.5" x2="197.6" y2="331.7" stroke="#111" stroke-width="1"/>
<text x="197.6" y="339.7" font-size="9.4" text-anchor="middle" stroke="#111" stroke-width="0.3">2000</text>
<line x1="204.81" y1="329.5" x2="204.81" y2="330.7" stroke="#111" stroke-width="0.8"/>
<line x1="212.02" y1="329.5" x2="212.02" y2="330.7" stroke="#111" stroke-width="0.8"/>
<text x="102.9" y="360.6" font-size="10.5" font-weight="bold">Z<tspan font-size="7" dy="2.2" font-style="italic">real</tspan><tspan dy="-2.2">, kOhm</tspan></text>
<text x="26.6" y="289" font-size="11.6" stroke="#111" stroke-width="0.25" textLength="50.5" lengthAdjust="spacingAndGlyphs" transform="rotate(-90 26.6 289)"><tspan font-style="italic">Z</tspan><tspan font-size="7.2" dy="2.2" font-style="italic">im</tspan><tspan dy="-2.2">, kOhm</tspan></text>
<rect x="52.2" y="319.9" width="2.8" height="2.8" fill="#e4161c"/>
<rect x="52.8" y="317.1" width="2.8" height="2.8" fill="#e4161c"/>
<rect x="53.4" y="314.2" width="2.8" height="2.8" fill="#e4161c"/>
<rect x="54.1" y="311" width="2.8" height="2.8" fill="#e4161c"/>
<rect x="55.9" y="307.9" width="2.8" height="2.8" fill="#e4161c"/>
<rect x="57.9" y="304" width="2.8" height="2.8" fill="#e4161c"/>
<rect x="60" y="299.8" width="2.8" height="2.8" fill="#e4161c"/>
<rect x="62.8" y="294.2" width="2.8" height="2.8" fill="#e4161c"/>
<rect x="66.8" y="288.1" width="2.8" height="2.8" fill="#e4161c"/>
<rect x="72.1" y="281.5" width="2.8" height="2.8" fill="#e4161c"/>
<rect x="78.6" y="276.8" width="2.8" height="2.8" fill="#e4161c"/>
<rect x="86.4" y="273.5" width="2.8" height="2.8" fill="#e4161c"/>
<rect x="94.5" y="270.6" width="2.8" height="2.8" fill="#e4161c"/>
<rect x="102.9" y="270.6" width="2.8" height="2.8" fill="#e4161c"/>
<rect x="111.2" y="273.5" width="2.8" height="2.8" fill="#e4161c"/>
<rect x="118.4" y="278.3" width="2.8" height="2.8" fill="#e4161c"/>
<rect x="125.2" y="282.9" width="2.8" height="2.8" fill="#e4161c"/>
<rect x="131.9" y="286.8" width="2.8" height="2.8" fill="#e4161c"/>
<rect x="138.4" y="290.5" width="2.8" height="2.8" fill="#e4161c"/>
<rect x="142.8" y="292.8" width="2.8" height="2.8" fill="#e4161c"/>
<rect x="147.1" y="293.6" width="2.8" height="2.8" fill="#e4161c"/>
<rect x="151.6" y="293.3" width="2.8" height="2.8" fill="#e4161c"/>
<rect x="156.8" y="291" width="2.8" height="2.8" fill="#e4161c"/>
<rect x="163.3" y="285.3" width="2.8" height="2.8" fill="#e4161c"/>
<rect x="173.8" y="279" width="2.8" height="2.8" fill="#e4161c"/>
<rect x="187.2" y="271.6" width="2.8" height="2.8" fill="#e4161c"/>
<rect x="207.3" y="259.3" width="2.8" height="2.8" fill="#e4161c"/>
<path d="M53.6 320.5 C54.5 316 57 312.8 61.2 312.3 C64 312.2 64.6 316 66.5 318.6 C67.6 320 69.5 318 71.3 316.2" fill="none" stroke="#3a78b8" stroke-width="3.4" stroke-linecap="round"/>
<path d="M53.6 320.5 C54 318.5 55 317.4 56.5 317.4 C58.5 317.4 60 317.8 60.7 320.5" fill="none" stroke="#4aa84a" stroke-width="3" stroke-linecap="round"/>
<circle cx="53.8" cy="322" r="1.6" fill="#8e4fb0"/>
<path d="M147.8 288 C143 279 133 272.5 121 270.8" fill="none" stroke="#111" stroke-width="0.9"/>
<path d="M117.6 270.4 L124.2 267.4 L122.6 271.2 L123.4 274.4 Z" fill="#111"/>
<text x="139.2" y="275.3" font-size="13.5" textLength="10.4" lengthAdjust="spacingAndGlyphs">ω</text>
<rect x="60.3" y="206.8" width="3.6" height="3.6" fill="#e4161c"/>
<text x="76.8" y="212.5" font-size="9.5" textLength="17" lengthAdjust="spacingAndGlyphs">59.3</text>
<circle cx="62.1" cy="222.6" r="1.8" fill="#3a78b8"/>
<text x="76.8" y="226.2" font-size="9.5" textLength="17" lengthAdjust="spacingAndGlyphs">62.5</text>
<path d="M62.1 234.42L64.08 237.84L60.12 237.84Z" fill="#4aa84a"/>
<text x="76.8" y="240" font-size="9.5" textLength="17" lengthAdjust="spacingAndGlyphs">67.2</text>
<path d="M62.1 252.88L64.08 249.46L60.12 249.46Z" fill="#8e4fb0"/>
<text x="76.8" y="253.8" font-size="9.5" textLength="17" lengthAdjust="spacingAndGlyphs">69.8</text>
<rect x="139" y="198.4" width="68.9" height="55" fill="white" stroke="#777" stroke-width="0.8"/>
<line x1="145.1" y1="253.4" x2="145.1" y2="254.6" stroke="#777" stroke-width="0.6"/>
<text x="145.1" y="259.4" font-size="6.8" text-anchor="middle" fill="#333">0</text>
<line x1="176.1" y1="253.4" x2="176.1" y2="254.6" stroke="#777" stroke-width="0.6"/>
<text x="176.1" y="259.4" font-size="6.8" text-anchor="middle" fill="#333">5</text>
<line x1="207.1" y1="253.4" x2="207.1" y2="254.6" stroke="#777" stroke-width="0.6"/>
<text x="207.1" y="259.4" font-size="6.8" text-anchor="middle" fill="#333">10</text>
<line x1="151.3" y1="253.4" x2="151.3" y2="252.6" stroke="#999" stroke-width="0.5"/>
<line x1="157.5" y1="253.4" x2="157.5" y2="252.6" stroke="#999" stroke-width="0.5"/>
<line x1="163.7" y1="253.4" x2="163.7" y2="252.6" stroke="#999" stroke-width="0.5"/>
<line x1="169.9" y1="253.4" x2="169.9" y2="252.6" stroke="#999" stroke-width="0.5"/>
<line x1="182.3" y1="253.4" x2="182.3" y2="252.6" stroke="#999" stroke-width="0.5"/>
<line x1="188.5" y1="253.4" x2="188.5" y2="252.6" stroke="#999" stroke-width="0.5"/>
<line x1="194.7" y1="253.4" x2="194.7" y2="252.6" stroke="#999" stroke-width="0.5"/>
<line x1="200.9" y1="253.4" x2="200.9" y2="252.6" stroke="#999" stroke-width="0.5"/>
<line x1="137.8" y1="248.1" x2="139" y2="248.1" stroke="#777" stroke-width="0.6"/>
<text x="137.4" y="250.4" font-size="6.8" text-anchor="end" fill="#333">0</text>
<line x1="137.8" y1="228.2" x2="139" y2="228.2" stroke="#777" stroke-width="0.6"/>
<text x="137.4" y="230.5" font-size="6.8" text-anchor="end" fill="#333">2</text>
<line x1="137.8" y1="208.3" x2="139" y2="208.3" stroke="#777" stroke-width="0.6"/>
<text x="137.4" y="210.6" font-size="6.8" text-anchor="end" fill="#333">4</text>
<path d="M150.68 248.68L152.55 245.45L148.81 245.45Z" fill="#8e4fb0"/>
<path d="M151.92 246.98L153.79 243.75L150.05 243.75Z" fill="#8e4fb0"/>
<path d="M153.16 245L155.03 241.76L151.29 241.76Z" fill="#8e4fb0"/>
<path d="M154.4 243L156.27 239.77L152.53 239.77Z" fill="#8e4fb0"/>
<path d="M155.64 241.01L157.51 237.78L153.77 237.78Z" fill="#8e4fb0"/>
<path d="M156.88 239.03L158.75 235.79L155.01 235.79Z" fill="#8e4fb0"/>
<path d="M158.12 237.03L159.99 233.8L156.25 233.8Z" fill="#8e4fb0"/>
<path d="M159.67 234.55L161.54 231.32L157.8 231.32Z" fill="#8e4fb0"/>
<path d="M161.22 232.06L163.09 228.83L159.35 228.83Z" fill="#8e4fb0"/>
<path d="M163.08 229.57L164.95 226.34L161.21 226.34Z" fill="#8e4fb0"/>
<path d="M165.25 226.59L167.12 223.36L163.38 223.36Z" fill="#8e4fb0"/>
<path d="M167.85 223.6L169.72 220.37L165.98 220.37Z" fill="#8e4fb0"/>
<path d="M174.24 218.13L176.11 214.9L172.37 214.9Z" fill="#8e4fb0"/>
<path d="M181.68 214.15L183.55 210.92L179.81 210.92Z" fill="#8e4fb0"/>
<path d="M189.74 212.16L191.61 208.93L187.87 208.93Z" fill="#8e4fb0"/>
<path d="M197.18 212.66L199.05 209.43L195.31 209.43Z" fill="#8e4fb0"/>
<path d="M205.24 214.65L207.11 211.42L203.37 211.42Z" fill="#8e4fb0"/>
<path d="M151.92 243.35L153.68 246.39L150.16 246.39Z" fill="#4aa84a"/>
<path d="M154.4 239.38L156.16 242.41L152.64 242.41Z" fill="#4aa84a"/>
<path d="M156.88 235.4L158.64 238.44L155.12 238.44Z" fill="#4aa84a"/>
<path d="M159.36 231.41L161.12 234.45L157.6 234.45Z" fill="#4aa84a"/>
<path d="M162.46 227.44L164.22 230.47L160.7 230.47Z" fill="#4aa84a"/>
<path d="M165.56 221.47L167.32 224.5L163.8 224.5Z" fill="#4aa84a"/>
<path d="M169.28 211.52L171.04 214.56L167.52 214.56Z" fill="#4aa84a"/>
<path d="M174.24 201.56L176 204.6L172.48 204.6Z" fill="#4aa84a"/>
<circle cx="150.68" cy="246.61" r="1.6" fill="#3a78b8"/>
<circle cx="153.16" cy="242.13" r="1.6" fill="#3a78b8"/>
<circle cx="155.64" cy="238.15" r="1.6" fill="#3a78b8"/>
<circle cx="158.12" cy="234.17" r="1.6" fill="#3a78b8"/>
<circle cx="160.6" cy="229.19" r="1.6" fill="#3a78b8"/>
<circle cx="163.7" cy="224.22" r="1.6" fill="#3a78b8"/>
<circle cx="167.42" cy="216.26" r="1.6" fill="#3a78b8"/>
<circle cx="172.38" cy="205.31" r="1.6" fill="#3a78b8"/>
<rect x="149.8" y="242.62" width="3" height="3" fill="#e4161c"/>
<rect x="151.66" y="238.64" width="3" height="3" fill="#e4161c"/>
<rect x="153.52" y="233.66" width="3" height="3" fill="#e4161c"/>
<rect x="155.38" y="227.99" width="3" height="3" fill="#e4161c"/>
<rect x="157.86" y="219.24" width="3" height="3" fill="#e4161c"/>
<rect x="162.2" y="207.79" width="3" height="3" fill="#e4161c"/>
<text x="259.5" y="201.8" font-size="13" font-weight="bold" textLength="18.2" lengthAdjust="spacingAndGlyphs">(d)</text>
<rect x="309" y="197" width="165.6" height="134" fill="none" stroke="#222" stroke-width="1.5"/>
<line x1="309" y1="331" x2="309" y2="333.2" stroke="#111" stroke-width="1"/>
<line x1="318.96" y1="331" x2="318.96" y2="332.2" stroke="#111" stroke-width="0.8"/>
<line x1="324.79" y1="331" x2="324.79" y2="332.2" stroke="#111" stroke-width="0.8"/>
<line x1="328.93" y1="331" x2="328.93" y2="332.2" stroke="#111" stroke-width="0.8"/>
<line x1="332.14" y1="331" x2="332.14" y2="332.2" stroke="#111" stroke-width="0.8"/>
<line x1="334.76" y1="331" x2="334.76" y2="332.2" stroke="#111" stroke-width="0.8"/>
<line x1="336.97" y1="331" x2="336.97" y2="332.2" stroke="#111" stroke-width="0.8"/>
<line x1="338.89" y1="331" x2="338.89" y2="332.2" stroke="#111" stroke-width="0.8"/>
<line x1="340.59" y1="331" x2="340.59" y2="332.2" stroke="#111" stroke-width="0.8"/>
<line x1="342.1" y1="331" x2="342.1" y2="333.2" stroke="#111" stroke-width="1"/>
<line x1="352.06" y1="331" x2="352.06" y2="332.2" stroke="#111" stroke-width="0.8"/>
<line x1="357.89" y1="331" x2="357.89" y2="332.2" stroke="#111" stroke-width="0.8"/>
<line x1="362.03" y1="331" x2="362.03" y2="332.2" stroke="#111" stroke-width="0.8"/>
<line x1="365.24" y1="331" x2="365.24" y2="332.2" stroke="#111" stroke-width="0.8"/>
<line x1="367.86" y1="331" x2="367.86" y2="332.2" stroke="#111" stroke-width="0.8"/>
<line x1="370.07" y1="331" x2="370.07" y2="332.2" stroke="#111" stroke-width="0.8"/>
<line x1="371.99" y1="331" x2="371.99" y2="332.2" stroke="#111" stroke-width="0.8"/>
<line x1="373.69" y1="331" x2="373.69" y2="332.2" stroke="#111" stroke-width="0.8"/>
<line x1="375.2" y1="331" x2="375.2" y2="333.2" stroke="#111" stroke-width="1"/>
<line x1="385.16" y1="331" x2="385.16" y2="332.2" stroke="#111" stroke-width="0.8"/>
<line x1="390.99" y1="331" x2="390.99" y2="332.2" stroke="#111" stroke-width="0.8"/>
<line x1="395.13" y1="331" x2="395.13" y2="332.2" stroke="#111" stroke-width="0.8"/>
<line x1="398.34" y1="331" x2="398.34" y2="332.2" stroke="#111" stroke-width="0.8"/>
<line x1="400.96" y1="331" x2="400.96" y2="332.2" stroke="#111" stroke-width="0.8"/>
<line x1="403.17" y1="331" x2="403.17" y2="332.2" stroke="#111" stroke-width="0.8"/>
<line x1="405.09" y1="331" x2="405.09" y2="332.2" stroke="#111" stroke-width="0.8"/>
<line x1="406.79" y1="331" x2="406.79" y2="332.2" stroke="#111" stroke-width="0.8"/>
<line x1="408.3" y1="331" x2="408.3" y2="333.2" stroke="#111" stroke-width="1"/>
<line x1="418.26" y1="331" x2="418.26" y2="332.2" stroke="#111" stroke-width="0.8"/>
<line x1="424.09" y1="331" x2="424.09" y2="332.2" stroke="#111" stroke-width="0.8"/>
<line x1="428.23" y1="331" x2="428.23" y2="332.2" stroke="#111" stroke-width="0.8"/>
<line x1="431.44" y1="331" x2="431.44" y2="332.2" stroke="#111" stroke-width="0.8"/>
<line x1="434.06" y1="331" x2="434.06" y2="332.2" stroke="#111" stroke-width="0.8"/>
<line x1="436.27" y1="331" x2="436.27" y2="332.2" stroke="#111" stroke-width="0.8"/>
<line x1="438.19" y1="331" x2="438.19" y2="332.2" stroke="#111" stroke-width="0.8"/>
<line x1="439.89" y1="331" x2="439.89" y2="332.2" stroke="#111" stroke-width="0.8"/>
<line x1="441.4" y1="331" x2="441.4" y2="333.2" stroke="#111" stroke-width="1"/>
<line x1="451.36" y1="331" x2="451.36" y2="332.2" stroke="#111" stroke-width="0.8"/>
<line x1="457.19" y1="331" x2="457.19" y2="332.2" stroke="#111" stroke-width="0.8"/>
<line x1="461.33" y1="331" x2="461.33" y2="332.2" stroke="#111" stroke-width="0.8"/>
<line x1="464.54" y1="331" x2="464.54" y2="332.2" stroke="#111" stroke-width="0.8"/>
<line x1="467.16" y1="331" x2="467.16" y2="332.2" stroke="#111" stroke-width="0.8"/>
<line x1="469.37" y1="331" x2="469.37" y2="332.2" stroke="#111" stroke-width="0.8"/>
<line x1="471.29" y1="331" x2="471.29" y2="332.2" stroke="#111" stroke-width="0.8"/>
<line x1="472.99" y1="331" x2="472.99" y2="332.2" stroke="#111" stroke-width="0.8"/>
<line x1="474.5" y1="331" x2="474.5" y2="333.2" stroke="#111" stroke-width="1"/>
<line x1="307.8" y1="326.36" x2="309" y2="326.36" stroke="#111" stroke-width="0.8"/>
<line x1="307.8" y1="322.16" x2="309" y2="322.16" stroke="#111" stroke-width="0.8"/>
<line x1="306.8" y1="318.4" x2="309" y2="318.4" stroke="#111" stroke-width="1"/>
<line x1="307.8" y1="293.69" x2="309" y2="293.69" stroke="#111" stroke-width="0.8"/>
<line x1="307.8" y1="279.23" x2="309" y2="279.23" stroke="#111" stroke-width="0.8"/>
<line x1="307.8" y1="268.97" x2="309" y2="268.97" stroke="#111" stroke-width="0.8"/>
<line x1="307.8" y1="261.01" x2="309" y2="261.01" stroke="#111" stroke-width="0.8"/>
<line x1="307.8" y1="254.51" x2="309" y2="254.51" stroke="#111" stroke-width="0.8"/>
<line x1="307.8" y1="249.02" x2="309" y2="249.02" stroke="#111" stroke-width="0.8"/>
<line x1="307.8" y1="244.26" x2="309" y2="244.26" stroke="#111" stroke-width="0.8"/>
<line x1="307.8" y1="240.06" x2="309" y2="240.06" stroke="#111" stroke-width="0.8"/>
<line x1="306.8" y1="236.3" x2="309" y2="236.3" stroke="#111" stroke-width="1"/>
<line x1="307.8" y1="211.59" x2="309" y2="211.59" stroke="#111" stroke-width="0.8"/>
<line x1="307.8" y1="197.13" x2="309" y2="197.13" stroke="#111" stroke-width="0.8"/>
<text x="309.3" y="343" font-size="10" font-weight="normal" stroke="#111" stroke-width="0.3" text-anchor="middle">10<tspan font-size="6" dy="-3.6">0</tspan></text>
<text x="342.4" y="343" font-size="10" font-weight="normal" stroke="#111" stroke-width="0.3" text-anchor="middle">10<tspan font-size="6" dy="-3.6">1</tspan></text>
<text x="375.5" y="343" font-size="10" font-weight="normal" stroke="#111" stroke-width="0.3" text-anchor="middle">10<tspan font-size="6" dy="-3.6">2</tspan></text>
<text x="408.6" y="343" font-size="10" font-weight="normal" stroke="#111" stroke-width="0.3" text-anchor="middle">10<tspan font-size="6" dy="-3.6">3</tspan></text>
<text x="441.7" y="343" font-size="10" font-weight="normal" stroke="#111" stroke-width="0.3" text-anchor="middle">10<tspan font-size="6" dy="-3.6">4</tspan></text>
<text x="474.8" y="343" font-size="10" font-weight="normal" stroke="#111" stroke-width="0.3" text-anchor="middle">10<tspan font-size="6" dy="-3.6">5</tspan></text>
<text x="304.8" y="239.3" font-size="10" font-weight="normal" stroke="#111" stroke-width="0.3" text-anchor="end">10<tspan font-size="6" dy="-3.6">4</tspan></text>
<text x="304.8" y="321.4" font-size="10" font-weight="normal" stroke="#111" stroke-width="0.3" text-anchor="end">10<tspan font-size="6" dy="-3.6">3</tspan></text>
<text x="359" y="363.1" font-size="9.5" font-weight="bold" textLength="65.9" lengthAdjust="spacingAndGlyphs">Frequency, Hz</text>
<text x="289" y="284.4" font-size="10.3" font-weight="bold" transform="rotate(-90 289 284.4)">|<tspan dx="0.6">Z</tspan><tspan dx="3.4">|</tspan><tspan dx="2.6">,</tspan><tspan dx="1.5">Ohm</tspan></text>
<rect x="307.4" y="222" width="3.2" height="3.2" fill="#3a3a3a"/>
<rect x="310.71" y="222.05" width="3.2" height="3.2" fill="#3a3a3a"/>
<rect x="314.02" y="222.11" width="3.2" height="3.2" fill="#3a3a3a"/>
<rect x="317.33" y="222.18" width="3.2" height="3.2" fill="#3a3a3a"/>
<rect x="320.64" y="222.26" width="3.2" height="3.2" fill="#3a3a3a"/>
<rect x="323.95" y="222.35" width="3.2" height="3.2" fill="#3a3a3a"/>
<rect x="327.26" y="222.44" width="3.2" height="3.2" fill="#3a3a3a"/>
<rect x="330.57" y="222.54" width="3.2" height="3.2" fill="#3a3a3a"/>
<rect x="333.88" y="222.65" width="3.2" height="3.2" fill="#3a3a3a"/>
<rect x="337.19" y="222.76" width="3.2" height="3.2" fill="#3a3a3a"/>
<rect x="340.5" y="222.87" width="3.2" height="3.2" fill="#3a3a3a"/>
<rect x="343.81" y="222.99" width="3.2" height="3.2" fill="#3a3a3a"/>
<rect x="347.12" y="223.13" width="3.2" height="3.2" fill="#3a3a3a"/>
<rect x="350.43" y="223.27" width="3.2" height="3.2" fill="#3a3a3a"/>
<rect x="353.74" y="223.42" width="3.2" height="3.2" fill="#3a3a3a"/>
<rect x="357.05" y="223.59" width="3.2" height="3.2" fill="#3a3a3a"/>
<rect x="360.36" y="223.78" width="3.2" height="3.2" fill="#3a3a3a"/>
<rect x="363.67" y="223.98" width="3.2" height="3.2" fill="#3a3a3a"/>
<rect x="366.98" y="224.2" width="3.2" height="3.2" fill="#3a3a3a"/>
<rect x="370.29" y="224.45" width="3.2" height="3.2" fill="#3a3a3a"/>
<rect x="373.6" y="224.76" width="3.2" height="3.2" fill="#3a3a3a"/>
<rect x="376.91" y="225.13" width="3.2" height="3.2" fill="#3a3a3a"/>
<rect x="380.22" y="225.55" width="3.2" height="3.2" fill="#3a3a3a"/>
<rect x="383.53" y="226.02" width="3.2" height="3.2" fill="#3a3a3a"/>
<rect x="386.84" y="226.68" width="3.2" height="3.2" fill="#3a3a3a"/>
<rect x="390.15" y="227.45" width="3.2" height="3.2" fill="#3a3a3a"/>
<rect x="393.46" y="228.37" width="3.2" height="3.2" fill="#3a3a3a"/>
<rect x="396.77" y="229.54" width="3.2" height="3.2" fill="#3a3a3a"/>
<rect x="400.08" y="230.99" width="3.2" height="3.2" fill="#3a3a3a"/>
<rect x="403.39" y="232.64" width="3.2" height="3.2" fill="#3a3a3a"/>
<rect x="406.7" y="234.45" width="3.2" height="3.2" fill="#3a3a3a"/>
<rect x="410.01" y="236.35" width="3.2" height="3.2" fill="#3a3a3a"/>
<rect x="413.32" y="238.4" width="3.2" height="3.2" fill="#3a3a3a"/>
<rect x="416.63" y="240.68" width="3.2" height="3.2" fill="#3a3a3a"/>
<rect x="419.94" y="243.15" width="3.2" height="3.2" fill="#3a3a3a"/>
<rect x="423.25" y="245.8" width="3.2" height="3.2" fill="#3a3a3a"/>
<rect x="426.56" y="248.58" width="3.2" height="3.2" fill="#3a3a3a"/>
<rect x="429.87" y="251.57" width="3.2" height="3.2" fill="#3a3a3a"/>
<rect x="433.18" y="254.79" width="3.2" height="3.2" fill="#3a3a3a"/>
<rect x="436.49" y="258.19" width="3.2" height="3.2" fill="#3a3a3a"/>
<rect x="439.8" y="261.67" width="3.2" height="3.2" fill="#3a3a3a"/>
<rect x="443.11" y="265.11" width="3.2" height="3.2" fill="#3a3a3a"/>
<rect x="446.42" y="268.58" width="3.2" height="3.2" fill="#3a3a3a"/>
<rect x="449.73" y="272.16" width="3.2" height="3.2" fill="#3a3a3a"/>
<rect x="453.04" y="275.74" width="3.2" height="3.2" fill="#3a3a3a"/>
<rect x="456.35" y="279.24" width="3.2" height="3.2" fill="#3a3a3a"/>
<rect x="459.66" y="282.56" width="3.2" height="3.2" fill="#3a3a3a"/>
<rect x="462.97" y="285.7" width="3.2" height="3.2" fill="#3a3a3a"/>
<rect x="466.28" y="288.72" width="3.2" height="3.2" fill="#3a3a3a"/>
<rect x="469.59" y="291.63" width="3.2" height="3.2" fill="#3a3a3a"/>
<rect x="472.9" y="294.42" width="3.2" height="3.2" fill="#3a3a3a"/>
<circle cx="309" cy="226.5" r="1.6" fill="#e8303a"/>
<circle cx="312.31" cy="226.55" r="1.6" fill="#e8303a"/>
<circle cx="315.62" cy="226.61" r="1.6" fill="#e8303a"/>
<circle cx="318.93" cy="226.68" r="1.6" fill="#e8303a"/>
<circle cx="322.24" cy="226.76" r="1.6" fill="#e8303a"/>
<circle cx="325.55" cy="226.85" r="1.6" fill="#e8303a"/>
<circle cx="328.86" cy="226.94" r="1.6" fill="#e8303a"/>
<circle cx="332.17" cy="227.04" r="1.6" fill="#e8303a"/>
<circle cx="335.48" cy="227.15" r="1.6" fill="#e8303a"/>
<circle cx="338.79" cy="227.26" r="1.6" fill="#e8303a"/>
<circle cx="342.1" cy="227.37" r="1.6" fill="#e8303a"/>
<circle cx="345.41" cy="227.49" r="1.6" fill="#e8303a"/>
<circle cx="348.72" cy="227.63" r="1.6" fill="#e8303a"/>
<circle cx="352.03" cy="227.77" r="1.6" fill="#e8303a"/>
<circle cx="355.34" cy="227.92" r="1.6" fill="#e8303a"/>
<circle cx="358.65" cy="228.09" r="1.6" fill="#e8303a"/>
<circle cx="361.96" cy="228.28" r="1.6" fill="#e8303a"/>
<circle cx="365.27" cy="228.48" r="1.6" fill="#e8303a"/>
<circle cx="368.58" cy="228.7" r="1.6" fill="#e8303a"/>
<circle cx="371.89" cy="228.95" r="1.6" fill="#e8303a"/>
<circle cx="375.2" cy="229.26" r="1.6" fill="#e8303a"/>
<circle cx="378.51" cy="229.63" r="1.6" fill="#e8303a"/>
<circle cx="381.82" cy="230.05" r="1.6" fill="#e8303a"/>
<circle cx="385.13" cy="230.52" r="1.6" fill="#e8303a"/>
<circle cx="388.44" cy="231.06" r="1.6" fill="#e8303a"/>
<circle cx="391.75" cy="231.71" r="1.6" fill="#e8303a"/>
<circle cx="395.06" cy="232.52" r="1.6" fill="#e8303a"/>
<circle cx="398.37" cy="233.57" r="1.6" fill="#e8303a"/>
<circle cx="401.68" cy="234.89" r="1.6" fill="#e8303a"/>
<circle cx="404.99" cy="236.43" r="1.6" fill="#e8303a"/>
<circle cx="408.3" cy="238.12" r="1.6" fill="#e8303a"/>
<circle cx="411.61" cy="239.91" r="1.6" fill="#e8303a"/>
<circle cx="414.92" cy="241.84" r="1.6" fill="#e8303a"/>
<circle cx="418.23" cy="244" r="1.6" fill="#e8303a"/>
<circle cx="421.54" cy="246.35" r="1.6" fill="#e8303a"/>
<circle cx="424.85" cy="248.88" r="1.6" fill="#e8303a"/>
<circle cx="428.16" cy="251.55" r="1.6" fill="#e8303a"/>
<circle cx="431.47" cy="254.47" r="1.6" fill="#e8303a"/>
<circle cx="434.78" cy="257.69" r="1.6" fill="#e8303a"/>
<circle cx="438.09" cy="261.09" r="1.6" fill="#e8303a"/>
<circle cx="441.4" cy="264.57" r="1.6" fill="#e8303a"/>
<circle cx="444.71" cy="268.01" r="1.6" fill="#e8303a"/>
<circle cx="448.02" cy="271.48" r="1.6" fill="#e8303a"/>
<circle cx="451.33" cy="275.06" r="1.6" fill="#e8303a"/>
<circle cx="454.64" cy="278.64" r="1.6" fill="#e8303a"/>
<circle cx="457.95" cy="282.14" r="1.6" fill="#e8303a"/>
<circle cx="461.26" cy="285.46" r="1.6" fill="#e8303a"/>
<circle cx="464.57" cy="288.6" r="1.6" fill="#e8303a"/>
<circle cx="467.88" cy="291.62" r="1.6" fill="#e8303a"/>
<circle cx="471.19" cy="294.53" r="1.6" fill="#e8303a"/>
<circle cx="474.5" cy="297.32" r="1.6" fill="#e8303a"/>
<path d="M309 226.74L310.76 229.78L307.24 229.78Z" fill="#2a64e0"/>
<path d="M312.31 226.79L314.07 229.83L310.55 229.83Z" fill="#2a64e0"/>
<path d="M315.62 226.85L317.38 229.89L313.86 229.89Z" fill="#2a64e0"/>
<path d="M318.93 226.92L320.69 229.96L317.17 229.96Z" fill="#2a64e0"/>
<path d="M322.24 227L324 230.04L320.48 230.04Z" fill="#2a64e0"/>
<path d="M325.55 227.09L327.31 230.13L323.79 230.13Z" fill="#2a64e0"/>
<path d="M328.86 227.18L330.62 230.22L327.1 230.22Z" fill="#2a64e0"/>
<path d="M332.17 227.28L333.93 230.32L330.41 230.32Z" fill="#2a64e0"/>
<path d="M335.48 227.39L337.24 230.43L333.72 230.43Z" fill="#2a64e0"/>
<path d="M338.79 227.5L340.55 230.54L337.03 230.54Z" fill="#2a64e0"/>
<path d="M342.1 227.61L343.86 230.65L340.34 230.65Z" fill="#2a64e0"/>
<path d="M345.41 227.73L347.17 230.77L343.65 230.77Z" fill="#2a64e0"/>
<path d="M348.72 227.87L350.48 230.91L346.96 230.91Z" fill="#2a64e0"/>
<path d="M352.03 228.01L353.79 231.05L350.27 231.05Z" fill="#2a64e0"/>
<path d="M355.34 228.16L357.1 231.2L353.58 231.2Z" fill="#2a64e0"/>
<path d="M358.65 228.33L360.41 231.37L356.89 231.37Z" fill="#2a64e0"/>
<path d="M361.96 228.52L363.72 231.56L360.2 231.56Z" fill="#2a64e0"/>
<path d="M365.27 228.72L367.03 231.76L363.51 231.76Z" fill="#2a64e0"/>
<path d="M368.58 228.94L370.34 231.98L366.82 231.98Z" fill="#2a64e0"/>
<path d="M371.89 229.19L373.65 232.23L370.13 232.23Z" fill="#2a64e0"/>
<path d="M375.2 229.5L376.96 232.54L373.44 232.54Z" fill="#2a64e0"/>
<path d="M378.51 229.87L380.27 232.91L376.75 232.91Z" fill="#2a64e0"/>
<path d="M381.82 230.29L383.58 233.33L380.06 233.33Z" fill="#2a64e0"/>
<path d="M385.13 230.76L386.89 233.8L383.37 233.8Z" fill="#2a64e0"/>
<path d="M388.44 231.24L390.2 234.28L386.68 234.28Z" fill="#2a64e0"/>
<path d="M391.75 231.85L393.51 234.89L389.99 234.89Z" fill="#2a64e0"/>
<path d="M395.06 232.6L396.82 235.64L393.3 235.64Z" fill="#2a64e0"/>
<path d="M398.37 233.6L400.13 236.64L396.61 236.64Z" fill="#2a64e0"/>
<path d="M401.68 234.87L403.44 237.91L399.92 237.91Z" fill="#2a64e0"/>
<path d="M404.99 236.36L406.75 239.4L403.23 239.4Z" fill="#2a64e0"/>
<path d="M408.3 238L410.06 241.04L406.54 241.04Z" fill="#2a64e0"/>
<path d="M411.61 239.73L413.37 242.77L409.85 242.77Z" fill="#2a64e0"/>
<path d="M414.92 241.61L416.68 244.65L413.16 244.65Z" fill="#2a64e0"/>
<path d="M418.23 243.72L419.99 246.76L416.47 246.76Z" fill="#2a64e0"/>
<path d="M421.54 246.03L423.3 249.07L419.78 249.07Z" fill="#2a64e0"/>
<path d="M424.85 248.5L426.61 251.54L423.09 251.54Z" fill="#2a64e0"/>
<path d="M428.16 251.12L429.92 254.16L426.4 254.16Z" fill="#2a64e0"/>
<path d="M431.47 254.01L433.23 257.05L429.71 257.05Z" fill="#2a64e0"/>
<path d="M434.78 257.23L436.54 260.27L433.02 260.27Z" fill="#2a64e0"/>
<path d="M438.09 260.63L439.85 263.67L436.33 263.67Z" fill="#2a64e0"/>
<path d="M441.4 264.11L443.16 267.15L439.64 267.15Z" fill="#2a64e0"/>
<path d="M444.71 267.55L446.47 270.59L442.95 270.59Z" fill="#2a64e0"/>
<path d="M448.02 271.02L449.78 274.06L446.26 274.06Z" fill="#2a64e0"/>
<path d="M451.33 274.6L453.09 277.64L449.57 277.64Z" fill="#2a64e0"/>
<path d="M454.64 278.18L456.4 281.22L452.88 281.22Z" fill="#2a64e0"/>
<path d="M457.95 281.68L459.71 284.72L456.19 284.72Z" fill="#2a64e0"/>
<path d="M461.26 285L463.02 288.04L459.5 288.04Z" fill="#2a64e0"/>
<path d="M464.57 288.14L466.33 291.18L462.81 291.18Z" fill="#2a64e0"/>
<path d="M467.88 291.16L469.64 294.2L466.12 294.2Z" fill="#2a64e0"/>
<path d="M471.19 294.07L472.95 297.11L469.43 297.11Z" fill="#2a64e0"/>
<path d="M474.5 296.86L476.26 299.9L472.74 299.9Z" fill="#2a64e0"/>
<rect x="327.8" y="248.3" width="80.5" height="63.4" fill="white" stroke="#111" stroke-width="1"/>
<line x1="331.7" y1="311.7" x2="331.7" y2="313" stroke="#111" stroke-width="0.7"/>
<text x="331.7" y="318.9" font-size="7" text-anchor="middle">0</text>
<line x1="340.21" y1="311.7" x2="340.21" y2="313" stroke="#111" stroke-width="0.7"/>
<text x="340.21" y="318.9" font-size="7" text-anchor="middle">2</text>
<line x1="348.72" y1="311.7" x2="348.72" y2="313" stroke="#111" stroke-width="0.7"/>
<text x="348.72" y="318.9" font-size="7" text-anchor="middle">4</text>
<line x1="357.23" y1="311.7" x2="357.23" y2="313" stroke="#111" stroke-width="0.7"/>
<text x="357.23" y="318.9" font-size="7" text-anchor="middle">6</text>
<line x1="365.74" y1="311.7" x2="365.74" y2="313" stroke="#111" stroke-width="0.7"/>
<text x="365.74" y="318.9" font-size="7" text-anchor="middle">8</text>
<line x1="374.25" y1="311.7" x2="374.25" y2="313" stroke="#111" stroke-width="0.7"/>
<text x="374.25" y="318.9" font-size="7" text-anchor="middle">10</text>
<line x1="382.76" y1="311.7" x2="382.76" y2="313" stroke="#111" stroke-width="0.7"/>
<text x="382.76" y="318.9" font-size="7" text-anchor="middle">12</text>
<line x1="391.27" y1="311.7" x2="391.27" y2="313" stroke="#111" stroke-width="0.7"/>
<text x="391.27" y="318.9" font-size="7" text-anchor="middle">14</text>
<line x1="399.78" y1="311.7" x2="399.78" y2="313" stroke="#111" stroke-width="0.7"/>
<text x="399.78" y="318.9" font-size="7" text-anchor="middle">16</text>
<line x1="408.29" y1="311.7" x2="408.29" y2="313" stroke="#111" stroke-width="0.7"/>
<text x="408.29" y="318.9" font-size="7" text-anchor="middle">18</text>
<line x1="326.5" y1="309.6" x2="327.8" y2="309.6" stroke="#111" stroke-width="0.7"/>
<text x="326" y="312" font-size="7" text-anchor="end">0</text>
<line x1="326.5" y1="288.94" x2="327.8" y2="288.94" stroke="#111" stroke-width="0.7"/>
<text x="326" y="291.34" font-size="7" text-anchor="end">2</text>
<line x1="326.5" y1="268.28" x2="327.8" y2="268.28" stroke="#111" stroke-width="0.7"/>
<text x="326" y="270.68" font-size="7" text-anchor="end">4</text>
<line x1="326.5" y1="247.62" x2="327.8" y2="247.62" stroke="#111" stroke-width="0.7"/>
<text x="326" y="250.02" font-size="7" text-anchor="end">6</text>
<text x="350.2" y="325.4" font-size="7.8" textLength="35.8" lengthAdjust="spacingAndGlyphs">Z<tspan font-size="5.2" dy="1.6" font-style="italic">real</tspan><tspan dy="-1.6">, kOhm</tspan></text>
<text x="319.4" y="302" font-size="7.8" textLength="39" lengthAdjust="spacingAndGlyphs" transform="rotate(-90 319.4 302)">Z<tspan font-size="5.2" dy="1.6" font-style="italic">imag</tspan><tspan dy="-1.6">, kOhm</tspan></text>
<path d="M335.53 308.05 C335.95 306.59 336.95 302.63 338.08 299.27 C339.22 295.91 340.92 291.18 342.34 287.91 C343.76 284.64 344.82 282.14 346.59 279.64 C348.37 277.15 350.85 274.56 352.97 272.93 C355.1 271.29 357.37 270.43 359.36 269.83 C361.34 269.23 362.69 269.14 364.89 269.31 C367.09 269.49 370 269.57 372.55 270.86 C375.1 272.15 377.87 274.05 380.21 277.06 C382.55 280.07 384.96 285.75 386.59 288.94 C388.22 292.13 389.07 294.62 389.99 296.17 C390.92 297.72 391.34 298.32 392.12 298.24 C392.9 298.15 393.82 297.2 394.67 295.65 C395.52 294.11 396.31 291.88 397.23 288.94 C398.15 286 399.71 279.82 400.21 277.99" fill="none" stroke="#2a2a2a" stroke-width="1.9" stroke-dasharray="1.2 0.4"/>
<path d="M335.53 308.05 C335.95 306.59 336.95 302.54 338.08 299.27 C339.22 296 340.92 291.52 342.34 288.42 C343.76 285.32 344.82 282.91 346.59 280.68 C348.37 278.44 350.99 276.29 352.97 274.99 C354.96 273.7 356.66 273.32 358.51 272.93 C360.35 272.53 361.91 272.39 364.04 272.62 C366.17 272.84 368.93 273.01 371.27 274.27 C373.61 275.53 376.06 277.71 378.08 280.16 C380.1 282.6 382.09 286.1 383.4 288.94 C384.71 291.78 385.28 295.17 385.95 297.2 C386.62 299.24 386.84 301.13 387.44 301.13 C388.04 301.13 388.72 299.24 389.57 297.2 C390.42 295.17 391.62 291.66 392.55 288.94 C393.47 286.22 394.67 282.23 395.1 280.88" fill="none" stroke="#e8303a" stroke-width="1.9" stroke-dasharray="1.2 0.4"/>
<path d="M335.53 308.05 C335.95 306.59 336.95 302.46 338.08 299.27 C339.22 296.08 340.92 291.87 342.34 288.94 C343.76 286.01 344.82 283.77 346.59 281.71 C348.37 279.64 350.56 277.7 352.97 276.54 C355.39 275.39 358.58 274.87 361.06 274.79 C363.54 274.7 365.67 274.96 367.87 276.03 C370.07 277.09 372.23 279.04 374.25 281.19 C376.27 283.34 378.54 286.19 379.99 288.94 C381.45 291.69 382.16 295.41 382.97 297.72 C383.79 300.03 384.21 302.09 384.89 302.78 C385.56 303.47 386.23 303.13 387.01 301.85 C387.8 300.58 388.72 297.46 389.57 295.14 C390.42 292.81 391.27 290.21 392.12 287.91 C392.97 285.6 394.25 282.4 394.67 281.3" fill="none" stroke="#2a64e0" stroke-width="1.9" stroke-dasharray="1.2 0.4"/>
<text x="3.3" y="382.8" font-size="13" font-weight="bold" textLength="16.9" lengthAdjust="spacingAndGlyphs">(e)</text>
<rect x="49" y="377.9" width="165.4" height="133.1" fill="none" stroke="#222" stroke-width="1.5"/>
<line x1="49" y1="511" x2="49" y2="513.2" stroke="#111" stroke-width="1"/>
<line x1="58.96" y1="511" x2="58.96" y2="512.2" stroke="#111" stroke-width="0.8"/>
<line x1="64.78" y1="511" x2="64.78" y2="512.2" stroke="#111" stroke-width="0.8"/>
<line x1="68.92" y1="511" x2="68.92" y2="512.2" stroke="#111" stroke-width="0.8"/>
<line x1="72.12" y1="511" x2="72.12" y2="512.2" stroke="#111" stroke-width="0.8"/>
<line x1="74.74" y1="511" x2="74.74" y2="512.2" stroke="#111" stroke-width="0.8"/>
<line x1="76.96" y1="511" x2="76.96" y2="512.2" stroke="#111" stroke-width="0.8"/>
<line x1="78.87" y1="511" x2="78.87" y2="512.2" stroke="#111" stroke-width="0.8"/>
<line x1="80.57" y1="511" x2="80.57" y2="512.2" stroke="#111" stroke-width="0.8"/>
<line x1="82.08" y1="511" x2="82.08" y2="513.2" stroke="#111" stroke-width="1"/>
<line x1="92.04" y1="511" x2="92.04" y2="512.2" stroke="#111" stroke-width="0.8"/>
<line x1="97.86" y1="511" x2="97.86" y2="512.2" stroke="#111" stroke-width="0.8"/>
<line x1="102" y1="511" x2="102" y2="512.2" stroke="#111" stroke-width="0.8"/>
<line x1="105.2" y1="511" x2="105.2" y2="512.2" stroke="#111" stroke-width="0.8"/>
<line x1="107.82" y1="511" x2="107.82" y2="512.2" stroke="#111" stroke-width="0.8"/>
<line x1="110.04" y1="511" x2="110.04" y2="512.2" stroke="#111" stroke-width="0.8"/>
<line x1="111.95" y1="511" x2="111.95" y2="512.2" stroke="#111" stroke-width="0.8"/>
<line x1="113.65" y1="511" x2="113.65" y2="512.2" stroke="#111" stroke-width="0.8"/>
<line x1="115.16" y1="511" x2="115.16" y2="513.2" stroke="#111" stroke-width="1"/>
<line x1="125.12" y1="511" x2="125.12" y2="512.2" stroke="#111" stroke-width="0.8"/>
<line x1="130.94" y1="511" x2="130.94" y2="512.2" stroke="#111" stroke-width="0.8"/>
<line x1="135.08" y1="511" x2="135.08" y2="512.2" stroke="#111" stroke-width="0.8"/>
<line x1="138.28" y1="511" x2="138.28" y2="512.2" stroke="#111" stroke-width="0.8"/>
<line x1="140.9" y1="511" x2="140.9" y2="512.2" stroke="#111" stroke-width="0.8"/>
<line x1="143.12" y1="511" x2="143.12" y2="512.2" stroke="#111" stroke-width="0.8"/>
<line x1="145.03" y1="511" x2="145.03" y2="512.2" stroke="#111" stroke-width="0.8"/>
<line x1="146.73" y1="511" x2="146.73" y2="512.2" stroke="#111" stroke-width="0.8"/>
<line x1="148.24" y1="511" x2="148.24" y2="513.2" stroke="#111" stroke-width="1"/>
<line x1="158.2" y1="511" x2="158.2" y2="512.2" stroke="#111" stroke-width="0.8"/>
<line x1="164.02" y1="511" x2="164.02" y2="512.2" stroke="#111" stroke-width="0.8"/>
<line x1="168.16" y1="511" x2="168.16" y2="512.2" stroke="#111" stroke-width="0.8"/>
<line x1="171.36" y1="511" x2="171.36" y2="512.2" stroke="#111" stroke-width="0.8"/>
<line x1="173.98" y1="511" x2="173.98" y2="512.2" stroke="#111" stroke-width="0.8"/>
<line x1="176.2" y1="511" x2="176.2" y2="512.2" stroke="#111" stroke-width="0.8"/>
<line x1="178.11" y1="511" x2="178.11" y2="512.2" stroke="#111" stroke-width="0.8"/>
<line x1="179.81" y1="511" x2="179.81" y2="512.2" stroke="#111" stroke-width="0.8"/>
<line x1="181.32" y1="511" x2="181.32" y2="513.2" stroke="#111" stroke-width="1"/>
<line x1="191.28" y1="511" x2="191.28" y2="512.2" stroke="#111" stroke-width="0.8"/>
<line x1="197.1" y1="511" x2="197.1" y2="512.2" stroke="#111" stroke-width="0.8"/>
<line x1="201.24" y1="511" x2="201.24" y2="512.2" stroke="#111" stroke-width="0.8"/>
<line x1="204.44" y1="511" x2="204.44" y2="512.2" stroke="#111" stroke-width="0.8"/>
<line x1="207.06" y1="511" x2="207.06" y2="512.2" stroke="#111" stroke-width="0.8"/>
<line x1="209.28" y1="511" x2="209.28" y2="512.2" stroke="#111" stroke-width="0.8"/>
<line x1="211.19" y1="511" x2="211.19" y2="512.2" stroke="#111" stroke-width="0.8"/>
<line x1="212.89" y1="511" x2="212.89" y2="512.2" stroke="#111" stroke-width="0.8"/>
<line x1="214.4" y1="511" x2="214.4" y2="513.2" stroke="#111" stroke-width="1"/>
<line x1="46.8" y1="510.9" x2="49" y2="510.9" stroke="#111" stroke-width="1"/>
<line x1="47.8" y1="505.18" x2="49" y2="505.18" stroke="#111" stroke-width="0.8"/>
<line x1="47.8" y1="501.83" x2="49" y2="501.83" stroke="#111" stroke-width="0.8"/>
<line x1="47.8" y1="499.46" x2="49" y2="499.46" stroke="#111" stroke-width="0.8"/>
<line x1="47.8" y1="497.62" x2="49" y2="497.62" stroke="#111" stroke-width="0.8"/>
<line x1="47.8" y1="496.12" x2="49" y2="496.12" stroke="#111" stroke-width="0.8"/>
<line x1="47.8" y1="494.84" x2="49" y2="494.84" stroke="#111" stroke-width="0.8"/>
<line x1="47.8" y1="493.74" x2="49" y2="493.74" stroke="#111" stroke-width="0.8"/>
<line x1="47.8" y1="492.77" x2="49" y2="492.77" stroke="#111" stroke-width="0.8"/>
<line x1="46.8" y1="491.9" x2="49" y2="491.9" stroke="#111" stroke-width="1"/>
<line x1="47.8" y1="486.18" x2="49" y2="486.18" stroke="#111" stroke-width="0.8"/>
<line x1="47.8" y1="482.83" x2="49" y2="482.83" stroke="#111" stroke-width="0.8"/>
<line x1="47.8" y1="480.46" x2="49" y2="480.46" stroke="#111" stroke-width="0.8"/>
<line x1="47.8" y1="478.62" x2="49" y2="478.62" stroke="#111" stroke-width="0.8"/>
<line x1="47.8" y1="477.12" x2="49" y2="477.12" stroke="#111" stroke-width="0.8"/>
<line x1="47.8" y1="475.84" x2="49" y2="475.84" stroke="#111" stroke-width="0.8"/>
<line x1="47.8" y1="474.74" x2="49" y2="474.74" stroke="#111" stroke-width="0.8"/>
<line x1="47.8" y1="473.77" x2="49" y2="473.77" stroke="#111" stroke-width="0.8"/>
<line x1="46.8" y1="472.9" x2="49" y2="472.9" stroke="#111" stroke-width="1"/>
<line x1="47.8" y1="467.18" x2="49" y2="467.18" stroke="#111" stroke-width="0.8"/>
<line x1="47.8" y1="463.83" x2="49" y2="463.83" stroke="#111" stroke-width="0.8"/>
<line x1="47.8" y1="461.46" x2="49" y2="461.46" stroke="#111" stroke-width="0.8"/>
<line x1="47.8" y1="459.62" x2="49" y2="459.62" stroke="#111" stroke-width="0.8"/>
<line x1="47.8" y1="458.12" x2="49" y2="458.12" stroke="#111" stroke-width="0.8"/>
<line x1="47.8" y1="456.84" x2="49" y2="456.84" stroke="#111" stroke-width="0.8"/>
<line x1="47.8" y1="455.74" x2="49" y2="455.74" stroke="#111" stroke-width="0.8"/>
<line x1="47.8" y1="454.77" x2="49" y2="454.77" stroke="#111" stroke-width="0.8"/>
<line x1="46.8" y1="453.9" x2="49" y2="453.9" stroke="#111" stroke-width="1"/>
<line x1="47.8" y1="448.18" x2="49" y2="448.18" stroke="#111" stroke-width="0.8"/>
<line x1="47.8" y1="444.83" x2="49" y2="444.83" stroke="#111" stroke-width="0.8"/>
<line x1="47.8" y1="442.46" x2="49" y2="442.46" stroke="#111" stroke-width="0.8"/>
<line x1="47.8" y1="440.62" x2="49" y2="440.62" stroke="#111" stroke-width="0.8"/>
<line x1="47.8" y1="439.12" x2="49" y2="439.12" stroke="#111" stroke-width="0.8"/>
<line x1="47.8" y1="437.84" x2="49" y2="437.84" stroke="#111" stroke-width="0.8"/>
<line x1="47.8" y1="436.74" x2="49" y2="436.74" stroke="#111" stroke-width="0.8"/>
<line x1="47.8" y1="435.77" x2="49" y2="435.77" stroke="#111" stroke-width="0.8"/>
<line x1="46.8" y1="434.9" x2="49" y2="434.9" stroke="#111" stroke-width="1"/>
<line x1="47.8" y1="429.18" x2="49" y2="429.18" stroke="#111" stroke-width="0.8"/>
<line x1="47.8" y1="425.83" x2="49" y2="425.83" stroke="#111" stroke-width="0.8"/>
<line x1="47.8" y1="423.46" x2="49" y2="423.46" stroke="#111" stroke-width="0.8"/>
<line x1="47.8" y1="421.62" x2="49" y2="421.62" stroke="#111" stroke-width="0.8"/>
<line x1="47.8" y1="420.12" x2="49" y2="420.12" stroke="#111" stroke-width="0.8"/>
<line x1="47.8" y1="418.84" x2="49" y2="418.84" stroke="#111" stroke-width="0.8"/>
<line x1="47.8" y1="417.74" x2="49" y2="417.74" stroke="#111" stroke-width="0.8"/>
<line x1="47.8" y1="416.77" x2="49" y2="416.77" stroke="#111" stroke-width="0.8"/>
<line x1="46.8" y1="415.9" x2="49" y2="415.9" stroke="#111" stroke-width="1"/>
<line x1="47.8" y1="410.18" x2="49" y2="410.18" stroke="#111" stroke-width="0.8"/>
<line x1="47.8" y1="406.83" x2="49" y2="406.83" stroke="#111" stroke-width="0.8"/>
<line x1="47.8" y1="404.46" x2="49" y2="404.46" stroke="#111" stroke-width="0.8"/>
<line x1="47.8" y1="402.62" x2="49" y2="402.62" stroke="#111" stroke-width="0.8"/>
<line x1="47.8" y1="401.12" x2="49" y2="401.12" stroke="#111" stroke-width="0.8"/>
<line x1="47.8" y1="399.84" x2="49" y2="399.84" stroke="#111" stroke-width="0.8"/>
<line x1="47.8" y1="398.74" x2="49" y2="398.74" stroke="#111" stroke-width="0.8"/>
<line x1="47.8" y1="397.77" x2="49" y2="397.77" stroke="#111" stroke-width="0.8"/>
<line x1="46.8" y1="396.9" x2="49" y2="396.9" stroke="#111" stroke-width="1"/>
<line x1="47.8" y1="391.18" x2="49" y2="391.18" stroke="#111" stroke-width="0.8"/>
<line x1="47.8" y1="387.83" x2="49" y2="387.83" stroke="#111" stroke-width="0.8"/>
<line x1="47.8" y1="385.46" x2="49" y2="385.46" stroke="#111" stroke-width="0.8"/>
<line x1="47.8" y1="383.62" x2="49" y2="383.62" stroke="#111" stroke-width="0.8"/>
<line x1="47.8" y1="382.12" x2="49" y2="382.12" stroke="#111" stroke-width="0.8"/>
<line x1="47.8" y1="380.84" x2="49" y2="380.84" stroke="#111" stroke-width="0.8"/>
<line x1="47.8" y1="379.74" x2="49" y2="379.74" stroke="#111" stroke-width="0.8"/>
<line x1="47.8" y1="378.77" x2="49" y2="378.77" stroke="#111" stroke-width="0.8"/>
<line x1="46.8" y1="377.9" x2="49" y2="377.9" stroke="#111" stroke-width="1"/>
<text x="49.3" y="523.5" font-size="9.8" font-weight="bold" text-anchor="middle">10<tspan font-size="6" dy="-3.6">0</tspan></text>
<text x="82.38" y="523.5" font-size="9.8" font-weight="bold" text-anchor="middle">10<tspan font-size="6" dy="-3.6">1</tspan></text>
<text x="115.46" y="523.5" font-size="9.8" font-weight="bold" text-anchor="middle">10<tspan font-size="6" dy="-3.6">2</tspan></text>
<text x="148.54" y="523.5" font-size="9.8" font-weight="bold" text-anchor="middle">10<tspan font-size="6" dy="-3.6">3</tspan></text>
<text x="181.62" y="523.5" font-size="9.8" font-weight="bold" text-anchor="middle">10<tspan font-size="6" dy="-3.6">4</tspan></text>
<text x="214.7" y="523.5" font-size="9.8" font-weight="bold" text-anchor="middle">10<tspan font-size="6" dy="-3.6">5</tspan></text>
<text x="44.6" y="380.9" font-size="9" font-weight="bold" text-anchor="end">10<tspan font-size="6" dy="-3.2">−4</tspan></text>
<text x="44.6" y="399.9" font-size="9" font-weight="bold" text-anchor="end">10<tspan font-size="6" dy="-3.2">−5</tspan></text>
<text x="44.6" y="418.9" font-size="9" font-weight="bold" text-anchor="end">10<tspan font-size="6" dy="-3.2">−6</tspan></text>
<text x="44.6" y="437.9" font-size="9" font-weight="bold" text-anchor="end">10<tspan font-size="6" dy="-3.2">−7</tspan></text>
<text x="44.6" y="456.9" font-size="9" font-weight="bold" text-anchor="end">10<tspan font-size="6" dy="-3.2">−8</tspan></text>
<text x="44.6" y="475.9" font-size="9" font-weight="bold" text-anchor="end">10<tspan font-size="6" dy="-3.2">−9</tspan></text>
<text x="44.6" y="494.9" font-size="9" font-weight="bold" text-anchor="end">10<tspan font-size="6" dy="-3.2">−10</tspan></text>
<text x="44.6" y="513.9" font-size="9" font-weight="bold" text-anchor="end">10<tspan font-size="6" dy="-3.2">−11</tspan></text>
<text x="99.4" y="542.7" font-size="9.5" font-weight="bold" textLength="65.2" lengthAdjust="spacingAndGlyphs">Frequency, Hz</text>
<text x="18.2" y="453" font-size="10.8" textLength="23.2" lengthAdjust="spacingAndGlyphs" transform="rotate(-90 18.2 453)" stroke="#111" stroke-width="0.3">Cp, F</text>
<rect x="47.3" y="450.12" width="3.4" height="3.4" fill="#e6141c"/>
<rect x="50.61" y="451.02" width="3.4" height="3.4" fill="#e6141c"/>
<rect x="53.92" y="451.93" width="3.4" height="3.4" fill="#e6141c"/>
<rect x="57.22" y="452.86" width="3.4" height="3.4" fill="#e6141c"/>
<rect x="60.53" y="453.8" width="3.4" height="3.4" fill="#e6141c"/>
<rect x="63.84" y="454.74" width="3.4" height="3.4" fill="#e6141c"/>
<rect x="67.15" y="455.68" width="3.4" height="3.4" fill="#e6141c"/>
<rect x="70.46" y="456.63" width="3.4" height="3.4" fill="#e6141c"/>
<rect x="73.76" y="457.57" width="3.4" height="3.4" fill="#e6141c"/>
<rect x="77.07" y="458.51" width="3.4" height="3.4" fill="#e6141c"/>
<rect x="80.38" y="459.44" width="3.4" height="3.4" fill="#e6141c"/>
<rect x="83.69" y="460.36" width="3.4" height="3.4" fill="#e6141c"/>
<rect x="87" y="461.27" width="3.4" height="3.4" fill="#e6141c"/>
<rect x="90.3" y="462.17" width="3.4" height="3.4" fill="#e6141c"/>
<rect x="93.61" y="463.05" width="3.4" height="3.4" fill="#e6141c"/>
<rect x="96.92" y="463.91" width="3.4" height="3.4" fill="#e6141c"/>
<rect x="100.23" y="464.76" width="3.4" height="3.4" fill="#e6141c"/>
<rect x="103.54" y="465.6" width="3.4" height="3.4" fill="#e6141c"/>
<rect x="106.84" y="466.41" width="3.4" height="3.4" fill="#e6141c"/>
<rect x="110.15" y="467.2" width="3.4" height="3.4" fill="#e6141c"/>
<rect x="113.46" y="467.97" width="3.4" height="3.4" fill="#e6141c"/>
<rect x="116.77" y="468.73" width="3.4" height="3.4" fill="#e6141c"/>
<rect x="120.08" y="469.46" width="3.4" height="3.4" fill="#e6141c"/>
<rect x="123.38" y="470.17" width="3.4" height="3.4" fill="#e6141c"/>
<rect x="126.69" y="470.87" width="3.4" height="3.4" fill="#e6141c"/>
<rect x="130" y="471.54" width="3.4" height="3.4" fill="#e6141c"/>
<rect x="133.31" y="472.2" width="3.4" height="3.4" fill="#e6141c"/>
<rect x="136.62" y="472.84" width="3.4" height="3.4" fill="#e6141c"/>
<rect x="139.92" y="473.46" width="3.4" height="3.4" fill="#e6141c"/>
<rect x="143.23" y="474.06" width="3.4" height="3.4" fill="#e6141c"/>
<rect x="146.54" y="474.65" width="3.4" height="3.4" fill="#e6141c"/>
<rect x="149.85" y="475.23" width="3.4" height="3.4" fill="#e6141c"/>
<rect x="153.16" y="475.8" width="3.4" height="3.4" fill="#e6141c"/>
<rect x="156.46" y="476.36" width="3.4" height="3.4" fill="#e6141c"/>
<rect x="159.77" y="476.91" width="3.4" height="3.4" fill="#e6141c"/>
<rect x="163.08" y="477.46" width="3.4" height="3.4" fill="#e6141c"/>
<rect x="166.39" y="478.01" width="3.4" height="3.4" fill="#e6141c"/>
<rect x="169.7" y="478.56" width="3.4" height="3.4" fill="#e6141c"/>
<rect x="173" y="479.11" width="3.4" height="3.4" fill="#e6141c"/>
<rect x="176.31" y="479.66" width="3.4" height="3.4" fill="#e6141c"/>
<rect x="179.62" y="480.23" width="3.4" height="3.4" fill="#e6141c"/>
<rect x="182.93" y="480.81" width="3.4" height="3.4" fill="#e6141c"/>
<rect x="186.24" y="481.41" width="3.4" height="3.4" fill="#e6141c"/>
<rect x="189.54" y="482.03" width="3.4" height="3.4" fill="#e6141c"/>
<rect x="192.85" y="482.67" width="3.4" height="3.4" fill="#e6141c"/>
<rect x="196.16" y="483.34" width="3.4" height="3.4" fill="#e6141c"/>
<rect x="199.47" y="484.05" width="3.4" height="3.4" fill="#e6141c"/>
<rect x="202.78" y="484.79" width="3.4" height="3.4" fill="#e6141c"/>
<rect x="206.08" y="485.58" width="3.4" height="3.4" fill="#e6141c"/>
<rect x="209.39" y="486.41" width="3.4" height="3.4" fill="#e6141c"/>
<rect x="212.7" y="487.3" width="3.4" height="3.4" fill="#e6141c"/>
<circle cx="49" cy="437.57" r="1.7" fill="#2f78c4"/>
<circle cx="52.31" cy="438.91" r="1.7" fill="#2f78c4"/>
<circle cx="55.62" cy="440.29" r="1.7" fill="#2f78c4"/>
<circle cx="58.92" cy="441.7" r="1.7" fill="#2f78c4"/>
<circle cx="62.23" cy="443.13" r="1.7" fill="#2f78c4"/>
<circle cx="65.54" cy="444.58" r="1.7" fill="#2f78c4"/>
<circle cx="68.85" cy="446.03" r="1.7" fill="#2f78c4"/>
<circle cx="72.16" cy="447.47" r="1.7" fill="#2f78c4"/>
<circle cx="75.46" cy="448.91" r="1.7" fill="#2f78c4"/>
<circle cx="78.77" cy="450.34" r="1.7" fill="#2f78c4"/>
<circle cx="82.08" cy="451.74" r="1.7" fill="#2f78c4"/>
<circle cx="85.39" cy="453.12" r="1.7" fill="#2f78c4"/>
<circle cx="88.7" cy="454.47" r="1.7" fill="#2f78c4"/>
<circle cx="92" cy="455.79" r="1.7" fill="#2f78c4"/>
<circle cx="95.31" cy="457.07" r="1.7" fill="#2f78c4"/>
<circle cx="98.62" cy="458.3" r="1.7" fill="#2f78c4"/>
<circle cx="101.93" cy="459.5" r="1.7" fill="#2f78c4"/>
<circle cx="105.24" cy="460.64" r="1.7" fill="#2f78c4"/>
<circle cx="108.54" cy="461.74" r="1.7" fill="#2f78c4"/>
<circle cx="111.85" cy="462.79" r="1.7" fill="#2f78c4"/>
<circle cx="115.16" cy="463.79" r="1.7" fill="#2f78c4"/>
<circle cx="118.47" cy="464.75" r="1.7" fill="#2f78c4"/>
<circle cx="121.78" cy="465.65" r="1.7" fill="#2f78c4"/>
<circle cx="125.08" cy="466.5" r="1.7" fill="#2f78c4"/>
<circle cx="128.39" cy="467.3" r="1.7" fill="#2f78c4"/>
<circle cx="131.7" cy="468.06" r="1.7" fill="#2f78c4"/>
<circle cx="135.01" cy="468.77" r="1.7" fill="#2f78c4"/>
<circle cx="138.32" cy="469.44" r="1.7" fill="#2f78c4"/>
<circle cx="141.62" cy="470.07" r="1.7" fill="#2f78c4"/>
<circle cx="144.93" cy="470.67" r="1.7" fill="#2f78c4"/>
<circle cx="148.24" cy="471.24" r="1.7" fill="#2f78c4"/>
<circle cx="151.55" cy="471.77" r="1.7" fill="#2f78c4"/>
<circle cx="154.86" cy="472.29" r="1.7" fill="#2f78c4"/>
<circle cx="158.16" cy="472.79" r="1.7" fill="#2f78c4"/>
<circle cx="161.47" cy="473.28" r="1.7" fill="#2f78c4"/>
<circle cx="164.78" cy="473.77" r="1.7" fill="#2f78c4"/>
<circle cx="168.09" cy="474.26" r="1.7" fill="#2f78c4"/>
<circle cx="171.4" cy="474.76" r="1.7" fill="#2f78c4"/>
<circle cx="174.7" cy="475.28" r="1.7" fill="#2f78c4"/>
<circle cx="178.01" cy="475.82" r="1.7" fill="#2f78c4"/>
<circle cx="181.32" cy="476.4" r="1.7" fill="#2f78c4"/>
<circle cx="184.63" cy="477.03" r="1.7" fill="#2f78c4"/>
<circle cx="187.94" cy="477.71" r="1.7" fill="#2f78c4"/>
<circle cx="191.24" cy="478.45" r="1.7" fill="#2f78c4"/>
<circle cx="194.55" cy="479.28" r="1.7" fill="#2f78c4"/>
<circle cx="197.86" cy="480.18" r="1.7" fill="#2f78c4"/>
<circle cx="201.17" cy="481.19" r="1.7" fill="#2f78c4"/>
<circle cx="204.48" cy="482.31" r="1.7" fill="#2f78c4"/>
<circle cx="207.78" cy="483.55" r="1.7" fill="#2f78c4"/>
<circle cx="211.09" cy="484.93" r="1.7" fill="#2f78c4"/>
<circle cx="214.4" cy="486.46" r="1.7" fill="#2f78c4"/>
<path d="M49 426.75L50.87 429.98L47.13 429.98Z" fill="#3aa640"/>
<path d="M52.31 428.35L54.18 431.58L50.44 431.58Z" fill="#3aa640"/>
<path d="M55.62 429.98L57.49 433.21L53.75 433.21Z" fill="#3aa640"/>
<path d="M58.92 431.63L60.79 434.86L57.05 434.86Z" fill="#3aa640"/>
<path d="M62.23 433.29L64.1 436.52L60.36 436.52Z" fill="#3aa640"/>
<path d="M65.54 434.96L67.41 438.19L63.67 438.19Z" fill="#3aa640"/>
<path d="M68.85 436.62L70.72 439.85L66.98 439.85Z" fill="#3aa640"/>
<path d="M72.16 438.27L74.03 441.5L70.29 441.5Z" fill="#3aa640"/>
<path d="M75.46 439.91L77.33 443.14L73.59 443.14Z" fill="#3aa640"/>
<path d="M78.77 441.51L80.64 444.74L76.9 444.74Z" fill="#3aa640"/>
<path d="M82.08 443.09L83.95 446.32L80.21 446.32Z" fill="#3aa640"/>
<path d="M85.39 444.62L87.26 447.85L83.52 447.85Z" fill="#3aa640"/>
<path d="M88.7 446.12L90.57 449.35L86.83 449.35Z" fill="#3aa640"/>
<path d="M92 447.57L93.87 450.8L90.13 450.8Z" fill="#3aa640"/>
<path d="M95.31 448.97L97.18 452.2L93.44 452.2Z" fill="#3aa640"/>
<path d="M98.62 450.32L100.49 453.55L96.75 453.55Z" fill="#3aa640"/>
<path d="M101.93 451.61L103.8 454.84L100.06 454.84Z" fill="#3aa640"/>
<path d="M105.24 452.85L107.11 456.08L103.37 456.08Z" fill="#3aa640"/>
<path d="M108.54 454.03L110.41 457.26L106.67 457.26Z" fill="#3aa640"/>
<path d="M111.85 455.15L113.72 458.38L109.98 458.38Z" fill="#3aa640"/>
<path d="M115.16 456.2L117.03 459.43L113.29 459.43Z" fill="#3aa640"/>
<path d="M118.47 457.2L120.34 460.43L116.6 460.43Z" fill="#3aa640"/>
<path d="M121.78 458.14L123.65 461.37L119.91 461.37Z" fill="#3aa640"/>
<path d="M125.08 459.03L126.95 462.26L123.21 462.26Z" fill="#3aa640"/>
<path d="M128.39 459.85L130.26 463.08L126.52 463.08Z" fill="#3aa640"/>
<path d="M131.7 460.63L133.57 463.86L129.83 463.86Z" fill="#3aa640"/>
<path d="M135.01 461.35L136.88 464.58L133.14 464.58Z" fill="#3aa640"/>
<path d="M138.32 462.03L140.19 465.26L136.45 465.26Z" fill="#3aa640"/>
<path d="M141.62 462.67L143.49 465.9L139.75 465.9Z" fill="#3aa640"/>
<path d="M144.93 463.27L146.8 466.5L143.06 466.5Z" fill="#3aa640"/>
<path d="M148.24 463.84L150.11 467.07L146.37 467.07Z" fill="#3aa640"/>
<path d="M151.55 464.38L153.42 467.61L149.68 467.61Z" fill="#3aa640"/>
<path d="M154.86 464.9L156.73 468.13L152.99 468.13Z" fill="#3aa640"/>
<path d="M158.16 465.41L160.03 468.64L156.29 468.64Z" fill="#3aa640"/>
<path d="M161.47 465.92L163.34 469.15L159.6 469.15Z" fill="#3aa640"/>
<path d="M164.78 466.42L166.65 469.65L162.91 469.65Z" fill="#3aa640"/>
<path d="M168.09 466.94L169.96 470.17L166.22 470.17Z" fill="#3aa640"/>
<path d="M171.4 467.48L173.27 470.71L169.53 470.71Z" fill="#3aa640"/>
<path d="M174.7 468.06L176.57 471.29L172.83 471.29Z" fill="#3aa640"/>
<path d="M178.01 468.67L179.88 471.9L176.14 471.9Z" fill="#3aa640"/>
<path d="M181.32 469.33L183.19 472.56L179.45 472.56Z" fill="#3aa640"/>
<path d="M184.63 470.06L186.5 473.29L182.76 473.29Z" fill="#3aa640"/>
<path d="M187.94 470.87L189.81 474.1L186.07 474.1Z" fill="#3aa640"/>
<path d="M191.24 471.76L193.11 474.99L189.37 474.99Z" fill="#3aa640"/>
<path d="M194.55 472.75L196.42 475.98L192.68 475.98Z" fill="#3aa640"/>
<path d="M197.86 473.86L199.73 477.09L195.99 477.09Z" fill="#3aa640"/>
<path d="M201.17 475.1L203.04 478.33L199.3 478.33Z" fill="#3aa640"/>
<path d="M204.48 476.48L206.35 479.71L202.61 479.71Z" fill="#3aa640"/>
<path d="M207.78 478.02L209.65 481.25L205.91 481.25Z" fill="#3aa640"/>
<path d="M211.09 479.74L212.96 482.97L209.22 482.97Z" fill="#3aa640"/>
<path d="M214.4 481.65L216.27 484.88L212.53 484.88Z" fill="#3aa640"/>
<path d="M49 419.83L50.87 416.6L47.13 416.6Z" fill="#9a4fc4"/>
<path d="M52.31 421.79L54.18 418.56L50.44 418.56Z" fill="#9a4fc4"/>
<path d="M55.62 423.73L57.49 420.5L53.75 420.5Z" fill="#9a4fc4"/>
<path d="M58.92 425.65L60.79 422.42L57.05 422.42Z" fill="#9a4fc4"/>
<path d="M62.23 427.54L64.1 424.31L60.36 424.31Z" fill="#9a4fc4"/>
<path d="M65.54 429.4L67.41 426.17L63.67 426.17Z" fill="#9a4fc4"/>
<path d="M68.85 431.22L70.72 427.99L66.98 427.99Z" fill="#9a4fc4"/>
<path d="M72.16 433.01L74.03 429.78L70.29 429.78Z" fill="#9a4fc4"/>
<path d="M75.46 434.75L77.33 431.52L73.59 431.52Z" fill="#9a4fc4"/>
<path d="M78.77 436.44L80.64 433.21L76.9 433.21Z" fill="#9a4fc4"/>
<path d="M82.08 438.09L83.95 434.86L80.21 434.86Z" fill="#9a4fc4"/>
<path d="M85.39 439.69L87.26 436.46L83.52 436.46Z" fill="#9a4fc4"/>
<path d="M88.7 441.23L90.57 438L86.83 438Z" fill="#9a4fc4"/>
<path d="M92 442.72L93.87 439.49L90.13 439.49Z" fill="#9a4fc4"/>
<path d="M95.31 444.15L97.18 440.92L93.44 440.92Z" fill="#9a4fc4"/>
<path d="M98.62 445.53L100.49 442.3L96.75 442.3Z" fill="#9a4fc4"/>
<path d="M101.93 446.85L103.8 443.62L100.06 443.62Z" fill="#9a4fc4"/>
<path d="M105.24 448.12L107.11 444.89L103.37 444.89Z" fill="#9a4fc4"/>
<path d="M108.54 449.33L110.41 446.1L106.67 446.1Z" fill="#9a4fc4"/>
<path d="M111.85 450.48L113.72 447.25L109.98 447.25Z" fill="#9a4fc4"/>
<path d="M115.16 451.58L117.03 448.35L113.29 448.35Z" fill="#9a4fc4"/>
<path d="M118.47 452.64L120.34 449.41L116.6 449.41Z" fill="#9a4fc4"/>
<path d="M121.78 453.64L123.65 450.41L119.91 450.41Z" fill="#9a4fc4"/>
<path d="M125.08 454.59L126.95 451.36L123.21 451.36Z" fill="#9a4fc4"/>
<path d="M128.39 455.5L130.26 452.27L126.52 452.27Z" fill="#9a4fc4"/>
<path d="M131.7 456.36L133.57 453.13L129.83 453.13Z" fill="#9a4fc4"/>
<path d="M135.01 457.19L136.88 453.96L133.14 453.96Z" fill="#9a4fc4"/>
<path d="M138.32 457.99L140.19 454.76L136.45 454.76Z" fill="#9a4fc4"/>
<path d="M141.62 458.75L143.49 455.52L139.75 455.52Z" fill="#9a4fc4"/>
<path d="M144.93 459.49L146.8 456.26L143.06 456.26Z" fill="#9a4fc4"/>
<path d="M148.24 460.21L150.11 456.98L146.37 456.98Z" fill="#9a4fc4"/>
<path d="M151.55 460.91L153.42 457.68L149.68 457.68Z" fill="#9a4fc4"/>
<path d="M154.86 461.61L156.73 458.38L152.99 458.38Z" fill="#9a4fc4"/>
<path d="M158.16 462.3L160.03 459.07L156.29 459.07Z" fill="#9a4fc4"/>
<path d="M161.47 463L163.34 459.77L159.6 459.77Z" fill="#9a4fc4"/>
<path d="M164.78 463.7L166.65 460.47L162.91 460.47Z" fill="#9a4fc4"/>
<path d="M168.09 464.43L169.96 461.2L166.22 461.2Z" fill="#9a4fc4"/>
<path d="M171.4 465.18L173.27 461.95L169.53 461.95Z" fill="#9a4fc4"/>
<path d="M174.7 465.96L176.57 462.73L172.83 462.73Z" fill="#9a4fc4"/>
<path d="M178.01 466.79L179.88 463.56L176.14 463.56Z" fill="#9a4fc4"/>
<path d="M181.32 467.67L183.19 464.44L179.45 464.44Z" fill="#9a4fc4"/>
<path d="M184.63 468.61L186.5 465.38L182.76 465.38Z" fill="#9a4fc4"/>
<path d="M187.94 469.62L189.81 466.39L186.07 466.39Z" fill="#9a4fc4"/>
<path d="M191.24 470.7L193.11 467.47L189.37 467.47Z" fill="#9a4fc4"/>
<path d="M194.55 471.88L196.42 468.65L192.68 468.65Z" fill="#9a4fc4"/>
<path d="M197.86 473.16L199.73 469.93L195.99 469.93Z" fill="#9a4fc4"/>
<path d="M201.17 474.56L203.04 471.33L199.3 471.33Z" fill="#9a4fc4"/>
<path d="M204.48 476.07L206.35 472.84L202.61 472.84Z" fill="#9a4fc4"/>
<path d="M207.78 477.72L209.65 474.49L205.91 474.49Z" fill="#9a4fc4"/>
<path d="M211.09 479.52L212.96 476.29L209.22 476.29Z" fill="#9a4fc4"/>
<path d="M214.4 481.48L216.27 478.25L212.53 478.25Z" fill="#9a4fc4"/>
<rect x="171.55" y="389.35" width="3.3" height="3.3" fill="#e6141c"/>
<text x="188.1" y="394.5" font-size="9.5" textLength="16.5" lengthAdjust="spacingAndGlyphs">59.3</text>
<circle cx="173.2" cy="404.8" r="1.65" fill="#2f78c4"/>
<text x="188.1" y="408.3" font-size="9.5" textLength="16.5" lengthAdjust="spacingAndGlyphs">62.5</text>
<path d="M173.2 416.69L175.01 419.82L171.38 419.82Z" fill="#3aa640"/>
<text x="188.1" y="422.1" font-size="9.5" textLength="16.5" lengthAdjust="spacingAndGlyphs">67.2</text>
<path d="M173.2 434.71L175.01 431.58L171.38 431.58Z" fill="#9a4fc4"/>
<text x="188.1" y="436.2" font-size="9.5" textLength="16.5" lengthAdjust="spacingAndGlyphs">69.8</text>
<text x="260.5" y="382.3" font-size="13" font-weight="bold" textLength="16.4" lengthAdjust="spacingAndGlyphs">(f)</text>
<rect x="309" y="377.4" width="165.4" height="133.2" fill="none" stroke="#222" stroke-width="1.5"/>
<line x1="309" y1="510.6" x2="309" y2="512.8" stroke="#111" stroke-width="1"/>
<line x1="318.96" y1="510.6" x2="318.96" y2="511.8" stroke="#111" stroke-width="0.8"/>
<line x1="324.78" y1="510.6" x2="324.78" y2="511.8" stroke="#111" stroke-width="0.8"/>
<line x1="328.92" y1="510.6" x2="328.92" y2="511.8" stroke="#111" stroke-width="0.8"/>
<line x1="332.12" y1="510.6" x2="332.12" y2="511.8" stroke="#111" stroke-width="0.8"/>
<line x1="334.74" y1="510.6" x2="334.74" y2="511.8" stroke="#111" stroke-width="0.8"/>
<line x1="336.96" y1="510.6" x2="336.96" y2="511.8" stroke="#111" stroke-width="0.8"/>
<line x1="338.87" y1="510.6" x2="338.87" y2="511.8" stroke="#111" stroke-width="0.8"/>
<line x1="340.57" y1="510.6" x2="340.57" y2="511.8" stroke="#111" stroke-width="0.8"/>
<line x1="342.08" y1="510.6" x2="342.08" y2="512.8" stroke="#111" stroke-width="1"/>
<line x1="352.04" y1="510.6" x2="352.04" y2="511.8" stroke="#111" stroke-width="0.8"/>
<line x1="357.86" y1="510.6" x2="357.86" y2="511.8" stroke="#111" stroke-width="0.8"/>
<line x1="362" y1="510.6" x2="362" y2="511.8" stroke="#111" stroke-width="0.8"/>
<line x1="365.2" y1="510.6" x2="365.2" y2="511.8" stroke="#111" stroke-width="0.8"/>
<line x1="367.82" y1="510.6" x2="367.82" y2="511.8" stroke="#111" stroke-width="0.8"/>
<line x1="370.04" y1="510.6" x2="370.04" y2="511.8" stroke="#111" stroke-width="0.8"/>
<line x1="371.95" y1="510.6" x2="371.95" y2="511.8" stroke="#111" stroke-width="0.8"/>
<line x1="373.65" y1="510.6" x2="373.65" y2="511.8" stroke="#111" stroke-width="0.8"/>
<line x1="375.16" y1="510.6" x2="375.16" y2="512.8" stroke="#111" stroke-width="1"/>
<line x1="385.12" y1="510.6" x2="385.12" y2="511.8" stroke="#111" stroke-width="0.8"/>
<line x1="390.94" y1="510.6" x2="390.94" y2="511.8" stroke="#111" stroke-width="0.8"/>
<line x1="395.08" y1="510.6" x2="395.08" y2="511.8" stroke="#111" stroke-width="0.8"/>
<line x1="398.28" y1="510.6" x2="398.28" y2="511.8" stroke="#111" stroke-width="0.8"/>
<line x1="400.9" y1="510.6" x2="400.9" y2="511.8" stroke="#111" stroke-width="0.8"/>
<line x1="403.12" y1="510.6" x2="403.12" y2="511.8" stroke="#111" stroke-width="0.8"/>
<line x1="405.03" y1="510.6" x2="405.03" y2="511.8" stroke="#111" stroke-width="0.8"/>
<line x1="406.73" y1="510.6" x2="406.73" y2="511.8" stroke="#111" stroke-width="0.8"/>
<line x1="408.24" y1="510.6" x2="408.24" y2="512.8" stroke="#111" stroke-width="1"/>
<line x1="418.2" y1="510.6" x2="418.2" y2="511.8" stroke="#111" stroke-width="0.8"/>
<line x1="424.02" y1="510.6" x2="424.02" y2="511.8" stroke="#111" stroke-width="0.8"/>
<line x1="428.16" y1="510.6" x2="428.16" y2="511.8" stroke="#111" stroke-width="0.8"/>
<line x1="431.36" y1="510.6" x2="431.36" y2="511.8" stroke="#111" stroke-width="0.8"/>
<line x1="433.98" y1="510.6" x2="433.98" y2="511.8" stroke="#111" stroke-width="0.8"/>
<line x1="436.2" y1="510.6" x2="436.2" y2="511.8" stroke="#111" stroke-width="0.8"/>
<line x1="438.11" y1="510.6" x2="438.11" y2="511.8" stroke="#111" stroke-width="0.8"/>
<line x1="439.81" y1="510.6" x2="439.81" y2="511.8" stroke="#111" stroke-width="0.8"/>
<line x1="441.32" y1="510.6" x2="441.32" y2="512.8" stroke="#111" stroke-width="1"/>
<line x1="451.28" y1="510.6" x2="451.28" y2="511.8" stroke="#111" stroke-width="0.8"/>
<line x1="457.1" y1="510.6" x2="457.1" y2="511.8" stroke="#111" stroke-width="0.8"/>
<line x1="461.24" y1="510.6" x2="461.24" y2="511.8" stroke="#111" stroke-width="0.8"/>
<line x1="464.44" y1="510.6" x2="464.44" y2="511.8" stroke="#111" stroke-width="0.8"/>
<line x1="467.06" y1="510.6" x2="467.06" y2="511.8" stroke="#111" stroke-width="0.8"/>
<line x1="469.28" y1="510.6" x2="469.28" y2="511.8" stroke="#111" stroke-width="0.8"/>
<line x1="471.19" y1="510.6" x2="471.19" y2="511.8" stroke="#111" stroke-width="0.8"/>
<line x1="472.89" y1="510.6" x2="472.89" y2="511.8" stroke="#111" stroke-width="0.8"/>
<line x1="474.4" y1="510.6" x2="474.4" y2="512.8" stroke="#111" stroke-width="1"/>
<line x1="306.8" y1="390.3" x2="309" y2="390.3" stroke="#111" stroke-width="1"/>
<text x="305" y="393.4" font-size="9" font-weight="bold" text-anchor="end">0</text>
<line x1="306.8" y1="408.75" x2="309" y2="408.75" stroke="#111" stroke-width="1"/>
<text x="305" y="411.85" font-size="9" font-weight="bold" text-anchor="end">−10</text>
<line x1="306.8" y1="427.2" x2="309" y2="427.2" stroke="#111" stroke-width="1"/>
<text x="305" y="430.3" font-size="9" font-weight="bold" text-anchor="end">−20</text>
<line x1="306.8" y1="445.65" x2="309" y2="445.65" stroke="#111" stroke-width="1"/>
<text x="305" y="448.75" font-size="9" font-weight="bold" text-anchor="end">−30</text>
<line x1="306.8" y1="464.1" x2="309" y2="464.1" stroke="#111" stroke-width="1"/>
<text x="305" y="467.2" font-size="9" font-weight="bold" text-anchor="end">−40</text>
<line x1="306.8" y1="482.55" x2="309" y2="482.55" stroke="#111" stroke-width="1"/>
<text x="305" y="485.65" font-size="9" font-weight="bold" text-anchor="end">−50</text>
<line x1="306.8" y1="501" x2="309" y2="501" stroke="#111" stroke-width="1"/>
<text x="305" y="504.1" font-size="9" font-weight="bold" text-anchor="end">−60</text>
<line x1="307.8" y1="381.07" x2="309" y2="381.07" stroke="#111" stroke-width="0.8"/>
<line x1="307.8" y1="399.53" x2="309" y2="399.53" stroke="#111" stroke-width="0.8"/>
<line x1="307.8" y1="417.98" x2="309" y2="417.98" stroke="#111" stroke-width="0.8"/>
<line x1="307.8" y1="436.43" x2="309" y2="436.43" stroke="#111" stroke-width="0.8"/>
<line x1="307.8" y1="454.88" x2="309" y2="454.88" stroke="#111" stroke-width="0.8"/>
<line x1="307.8" y1="473.33" x2="309" y2="473.33" stroke="#111" stroke-width="0.8"/>
<line x1="307.8" y1="491.77" x2="309" y2="491.77" stroke="#111" stroke-width="0.8"/>
<line x1="307.8" y1="510.23" x2="309" y2="510.23" stroke="#111" stroke-width="0.8"/>
<text x="309.3" y="523.8" font-size="9.8" font-weight="bold" text-anchor="middle">10<tspan font-size="6" dy="-3.6">0</tspan></text>
<text x="342.38" y="523.8" font-size="9.8" font-weight="bold" text-anchor="middle">10<tspan font-size="6" dy="-3.6">1</tspan></text>
<text x="375.46" y="523.8" font-size="9.8" font-weight="bold" text-anchor="middle">10<tspan font-size="6" dy="-3.6">2</tspan></text>
<text x="408.54" y="523.8" font-size="9.8" font-weight="bold" text-anchor="middle">10<tspan font-size="6" dy="-3.6">3</tspan></text>
<text x="441.62" y="523.8" font-size="9.8" font-weight="bold" text-anchor="middle">10<tspan font-size="6" dy="-3.6">4</tspan></text>
<text x="474.7" y="523.8" font-size="9.8" font-weight="bold" text-anchor="middle">10<tspan font-size="6" dy="-3.6">5</tspan></text>
<text x="358.6" y="542.9" font-size="9.5" font-weight="bold" textLength="65.9" lengthAdjust="spacingAndGlyphs">Frequency, Hz</text>
<text x="287.4" y="467.9" font-size="10" font-weight="bold" textLength="47.6" lengthAdjust="spacingAndGlyphs" transform="rotate(-90 287.4 467.9)">Phase, deg</text>
<rect x="307.35" y="401.05" width="3.3" height="3.3" fill="#e4161c"/>
<rect x="310.66" y="401.31" width="3.3" height="3.3" fill="#e4161c"/>
<rect x="313.97" y="401.82" width="3.3" height="3.3" fill="#e4161c"/>
<rect x="317.27" y="402.54" width="3.3" height="3.3" fill="#e4161c"/>
<rect x="320.58" y="403.41" width="3.3" height="3.3" fill="#e4161c"/>
<rect x="323.89" y="404.37" width="3.3" height="3.3" fill="#e4161c"/>
<rect x="327.2" y="405.46" width="3.3" height="3.3" fill="#e4161c"/>
<rect x="330.51" y="406.95" width="3.3" height="3.3" fill="#e4161c"/>
<rect x="333.81" y="408.76" width="3.3" height="3.3" fill="#e4161c"/>
<rect x="337.12" y="410.77" width="3.3" height="3.3" fill="#e4161c"/>
<rect x="340.43" y="413.17" width="3.3" height="3.3" fill="#e4161c"/>
<rect x="343.74" y="415.94" width="3.3" height="3.3" fill="#e4161c"/>
<rect x="347.05" y="418.95" width="3.3" height="3.3" fill="#e4161c"/>
<rect x="350.35" y="422.28" width="3.3" height="3.3" fill="#e4161c"/>
<rect x="353.66" y="425.98" width="3.3" height="3.3" fill="#e4161c"/>
<rect x="356.97" y="429.82" width="3.3" height="3.3" fill="#e4161c"/>
<rect x="360.28" y="433.7" width="3.3" height="3.3" fill="#e4161c"/>
<rect x="363.59" y="437.75" width="3.3" height="3.3" fill="#e4161c"/>
<rect x="366.89" y="441.77" width="3.3" height="3.3" fill="#e4161c"/>
<rect x="370.2" y="445.58" width="3.3" height="3.3" fill="#e4161c"/>
<rect x="373.51" y="449.29" width="3.3" height="3.3" fill="#e4161c"/>
<rect x="376.82" y="452.85" width="3.3" height="3.3" fill="#e4161c"/>
<rect x="380.13" y="456.11" width="3.3" height="3.3" fill="#e4161c"/>
<rect x="383.43" y="458.98" width="3.3" height="3.3" fill="#e4161c"/>
<rect x="386.74" y="461.63" width="3.3" height="3.3" fill="#e4161c"/>
<rect x="390.05" y="464.3" width="3.3" height="3.3" fill="#e4161c"/>
<rect x="393.36" y="467.27" width="3.3" height="3.3" fill="#e4161c"/>
<rect x="396.67" y="470.74" width="3.3" height="3.3" fill="#e4161c"/>
<rect x="399.97" y="474.25" width="3.3" height="3.3" fill="#e4161c"/>
<rect x="403.28" y="477.27" width="3.3" height="3.3" fill="#e4161c"/>
<rect x="406.59" y="479.36" width="3.3" height="3.3" fill="#e4161c"/>
<rect x="409.9" y="481.04" width="3.3" height="3.3" fill="#e4161c"/>
<rect x="413.21" y="482.51" width="3.3" height="3.3" fill="#e4161c"/>
<rect x="416.51" y="483.8" width="3.3" height="3.3" fill="#e4161c"/>
<rect x="419.82" y="484.96" width="3.3" height="3.3" fill="#e4161c"/>
<rect x="423.13" y="486.03" width="3.3" height="3.3" fill="#e4161c"/>
<rect x="426.44" y="487.06" width="3.3" height="3.3" fill="#e4161c"/>
<rect x="429.75" y="488.08" width="3.3" height="3.3" fill="#e4161c"/>
<rect x="433.05" y="489.08" width="3.3" height="3.3" fill="#e4161c"/>
<rect x="436.36" y="490.03" width="3.3" height="3.3" fill="#e4161c"/>
<rect x="439.67" y="490.91" width="3.3" height="3.3" fill="#e4161c"/>
<rect x="442.98" y="491.69" width="3.3" height="3.3" fill="#e4161c"/>
<rect x="446.29" y="492.35" width="3.3" height="3.3" fill="#e4161c"/>
<rect x="449.59" y="492.85" width="3.3" height="3.3" fill="#e4161c"/>
<rect x="452.9" y="493.31" width="3.3" height="3.3" fill="#e4161c"/>
<rect x="456.21" y="493.73" width="3.3" height="3.3" fill="#e4161c"/>
<rect x="459.52" y="494.06" width="3.3" height="3.3" fill="#e4161c"/>
<rect x="462.83" y="494.23" width="3.3" height="3.3" fill="#e4161c"/>
<rect x="466.13" y="494.14" width="3.3" height="3.3" fill="#e4161c"/>
<rect x="469.44" y="493.59" width="3.3" height="3.3" fill="#e4161c"/>
<rect x="472.75" y="492.75" width="3.3" height="3.3" fill="#e4161c"/>
<circle cx="309" cy="400.9" r="1.65" fill="#3a78c8"/>
<circle cx="312.31" cy="400.97" r="1.65" fill="#3a78c8"/>
<circle cx="315.62" cy="401.13" r="1.65" fill="#3a78c8"/>
<circle cx="318.92" cy="401.37" r="1.65" fill="#3a78c8"/>
<circle cx="322.23" cy="401.67" r="1.65" fill="#3a78c8"/>
<circle cx="325.54" cy="402.01" r="1.65" fill="#3a78c8"/>
<circle cx="328.85" cy="402.37" r="1.65" fill="#3a78c8"/>
<circle cx="332.16" cy="402.77" r="1.65" fill="#3a78c8"/>
<circle cx="335.46" cy="403.27" r="1.65" fill="#3a78c8"/>
<circle cx="338.77" cy="403.89" r="1.65" fill="#3a78c8"/>
<circle cx="342.08" cy="404.62" r="1.65" fill="#3a78c8"/>
<circle cx="345.39" cy="405.46" r="1.65" fill="#3a78c8"/>
<circle cx="348.7" cy="406.4" r="1.65" fill="#3a78c8"/>
<circle cx="352" cy="407.61" r="1.65" fill="#3a78c8"/>
<circle cx="355.31" cy="409.18" r="1.65" fill="#3a78c8"/>
<circle cx="358.62" cy="411" r="1.65" fill="#3a78c8"/>
<circle cx="361.93" cy="412.98" r="1.65" fill="#3a78c8"/>
<circle cx="365.24" cy="415.2" r="1.65" fill="#3a78c8"/>
<circle cx="368.54" cy="417.8" r="1.65" fill="#3a78c8"/>
<circle cx="371.85" cy="420.78" r="1.65" fill="#3a78c8"/>
<circle cx="375.16" cy="424.33" r="1.65" fill="#3a78c8"/>
<circle cx="378.47" cy="428.28" r="1.65" fill="#3a78c8"/>
<circle cx="381.78" cy="432.56" r="1.65" fill="#3a78c8"/>
<circle cx="385.08" cy="437.26" r="1.65" fill="#3a78c8"/>
<circle cx="388.39" cy="441.81" r="1.65" fill="#3a78c8"/>
<circle cx="391.7" cy="445.98" r="1.65" fill="#3a78c8"/>
<circle cx="395.01" cy="450.09" r="1.65" fill="#3a78c8"/>
<circle cx="398.32" cy="454.44" r="1.65" fill="#3a78c8"/>
<circle cx="401.62" cy="459.08" r="1.65" fill="#3a78c8"/>
<circle cx="404.93" cy="463.63" r="1.65" fill="#3a78c8"/>
<circle cx="408.24" cy="467.77" r="1.65" fill="#3a78c8"/>
<circle cx="411.55" cy="471.84" r="1.65" fill="#3a78c8"/>
<circle cx="414.86" cy="475.51" r="1.65" fill="#3a78c8"/>
<circle cx="418.16" cy="478.25" r="1.65" fill="#3a78c8"/>
<circle cx="421.47" cy="480.35" r="1.65" fill="#3a78c8"/>
<circle cx="424.78" cy="482.08" r="1.65" fill="#3a78c8"/>
<circle cx="428.09" cy="483.26" r="1.65" fill="#3a78c8"/>
<circle cx="431.4" cy="483.95" r="1.65" fill="#3a78c8"/>
<circle cx="434.7" cy="484.55" r="1.65" fill="#3a78c8"/>
<circle cx="438.01" cy="485.04" r="1.65" fill="#3a78c8"/>
<circle cx="441.32" cy="485.39" r="1.65" fill="#3a78c8"/>
<circle cx="444.63" cy="485.58" r="1.65" fill="#3a78c8"/>
<circle cx="447.94" cy="485.5" r="1.65" fill="#3a78c8"/>
<circle cx="451.24" cy="484.89" r="1.65" fill="#3a78c8"/>
<circle cx="454.55" cy="483.88" r="1.65" fill="#3a78c8"/>
<circle cx="457.86" cy="482.65" r="1.65" fill="#3a78c8"/>
<circle cx="461.17" cy="481.38" r="1.65" fill="#3a78c8"/>
<circle cx="464.48" cy="480.05" r="1.65" fill="#3a78c8"/>
<circle cx="467.78" cy="478.46" r="1.65" fill="#3a78c8"/>
<circle cx="471.09" cy="476.66" r="1.65" fill="#3a78c8"/>
<circle cx="474.4" cy="474.7" r="1.65" fill="#3a78c8"/>
<path d="M309 397.99L310.81 401.12L307.19 401.12Z" fill="#3aa84a"/>
<path d="M312.31 398.01L314.12 401.14L310.49 401.14Z" fill="#3aa84a"/>
<path d="M315.62 398.07L317.43 401.2L313.8 401.2Z" fill="#3aa84a"/>
<path d="M318.92 398.16L320.74 401.3L317.11 401.3Z" fill="#3aa84a"/>
<path d="M322.23 398.29L324.05 401.43L320.42 401.43Z" fill="#3aa84a"/>
<path d="M325.54 398.44L327.36 401.58L323.73 401.58Z" fill="#3aa84a"/>
<path d="M328.85 398.62L330.66 401.75L327.03 401.75Z" fill="#3aa84a"/>
<path d="M332.16 398.81L333.97 401.94L330.34 401.94Z" fill="#3aa84a"/>
<path d="M335.46 399.02L337.28 402.15L333.65 402.15Z" fill="#3aa84a"/>
<path d="M338.77 399.28L340.59 402.42L336.96 402.42Z" fill="#3aa84a"/>
<path d="M342.08 399.64L343.89 402.77L340.26 402.77Z" fill="#3aa84a"/>
<path d="M345.39 400.09L347.2 403.22L343.57 403.22Z" fill="#3aa84a"/>
<path d="M348.7 400.63L350.51 403.76L346.88 403.76Z" fill="#3aa84a"/>
<path d="M352 401.26L353.82 404.4L350.19 404.4Z" fill="#3aa84a"/>
<path d="M355.31 401.99L357.13 405.13L353.5 405.13Z" fill="#3aa84a"/>
<path d="M358.62 402.82L360.44 405.96L356.81 405.96Z" fill="#3aa84a"/>
<path d="M361.93 403.91L363.74 407.04L360.11 407.04Z" fill="#3aa84a"/>
<path d="M365.24 405.6L367.05 408.73L363.42 408.73Z" fill="#3aa84a"/>
<path d="M368.54 407.68L370.36 410.81L366.73 410.81Z" fill="#3aa84a"/>
<path d="M371.85 409.94L373.67 413.08L370.04 413.08Z" fill="#3aa84a"/>
<path d="M375.16 412.62L376.97 415.76L373.34 415.76Z" fill="#3aa84a"/>
<path d="M378.47 415.7L380.28 418.84L376.65 418.84Z" fill="#3aa84a"/>
<path d="M381.78 419.08L383.59 422.21L379.96 422.21Z" fill="#3aa84a"/>
<path d="M385.08 422.92L386.9 426.06L383.27 426.06Z" fill="#3aa84a"/>
<path d="M388.39 427.22L390.21 430.35L386.58 430.35Z" fill="#3aa84a"/>
<path d="M391.7 431.68L393.51 434.82L389.88 434.82Z" fill="#3aa84a"/>
<path d="M395.01 436.09L396.82 439.22L393.19 439.22Z" fill="#3aa84a"/>
<path d="M398.32 440.59L400.13 443.73L396.5 443.73Z" fill="#3aa84a"/>
<path d="M401.62 445.16L403.44 448.29L399.81 448.29Z" fill="#3aa84a"/>
<path d="M404.93 449.68L406.75 452.82L403.12 452.82Z" fill="#3aa84a"/>
<path d="M408.24 454.14L410.06 457.28L406.43 457.28Z" fill="#3aa84a"/>
<path d="M411.55 458.81L413.36 461.95L409.73 461.95Z" fill="#3aa84a"/>
<path d="M414.86 463.21L416.67 466.35L413.04 466.35Z" fill="#3aa84a"/>
<path d="M418.16 466.71L419.98 469.85L416.35 469.85Z" fill="#3aa84a"/>
<path d="M421.47 469.63L423.29 472.76L419.66 472.76Z" fill="#3aa84a"/>
<path d="M424.78 472.12L426.59 475.25L422.96 475.25Z" fill="#3aa84a"/>
<path d="M428.09 473.8L429.9 476.93L426.27 476.93Z" fill="#3aa84a"/>
<path d="M431.4 474.69L433.21 477.82L429.58 477.82Z" fill="#3aa84a"/>
<path d="M434.7 475.37L436.52 478.5L432.89 478.5Z" fill="#3aa84a"/>
<path d="M438.01 475.68L439.83 478.81L436.2 478.81Z" fill="#3aa84a"/>
<path d="M441.32 475.38L443.13 478.51L439.5 478.51Z" fill="#3aa84a"/>
<path d="M444.63 474.38L446.44 477.52L442.81 477.52Z" fill="#3aa84a"/>
<path d="M447.94 472.98L449.75 476.12L446.12 476.12Z" fill="#3aa84a"/>
<path d="M451.24 471.41L453.06 474.54L449.43 474.54Z" fill="#3aa84a"/>
<path d="M454.55 469.09L456.37 472.22L452.74 472.22Z" fill="#3aa84a"/>
<path d="M457.86 466.18L459.68 469.31L456.05 469.31Z" fill="#3aa84a"/>
<path d="M461.17 463.27L462.98 466.41L459.35 466.41Z" fill="#3aa84a"/>
<path d="M464.48 460.61L466.29 463.75L462.66 463.75Z" fill="#3aa84a"/>
<path d="M467.78 457.95L469.6 461.08L465.97 461.08Z" fill="#3aa84a"/>
<path d="M471.09 455.27L472.91 458.4L469.28 458.4Z" fill="#3aa84a"/>
<path d="M474.4 452.58L476.21 455.72L472.58 455.72Z" fill="#3aa84a"/>
<path d="M309 400.51L310.81 397.38L307.19 397.38Z" fill="#9050c8"/>
<path d="M312.31 400.53L314.12 397.39L310.49 397.39Z" fill="#9050c8"/>
<path d="M315.62 400.56L317.43 397.43L313.8 397.43Z" fill="#9050c8"/>
<path d="M318.92 400.62L320.74 397.49L317.11 397.49Z" fill="#9050c8"/>
<path d="M322.23 400.7L324.05 397.56L320.42 397.56Z" fill="#9050c8"/>
<path d="M325.54 400.79L327.36 397.65L323.73 397.65Z" fill="#9050c8"/>
<path d="M328.85 400.89L330.66 397.76L327.03 397.76Z" fill="#9050c8"/>
<path d="M332.16 401.01L333.97 397.87L330.34 397.87Z" fill="#9050c8"/>
<path d="M335.46 401.13L337.28 398L333.65 398Z" fill="#9050c8"/>
<path d="M338.77 401.31L340.59 398.18L336.96 398.18Z" fill="#9050c8"/>
<path d="M342.08 401.57L343.89 398.43L340.26 398.43Z" fill="#9050c8"/>
<path d="M345.39 401.89L347.2 398.75L343.57 398.75Z" fill="#9050c8"/>
<path d="M348.7 402.27L350.51 399.13L346.88 399.13Z" fill="#9050c8"/>
<path d="M352 402.7L353.82 399.56L350.19 399.56Z" fill="#9050c8"/>
<path d="M355.31 403.16L357.13 400.03L353.5 400.03Z" fill="#9050c8"/>
<path d="M358.62 403.66L360.44 400.53L356.81 400.53Z" fill="#9050c8"/>
<path d="M361.93 404.21L363.74 401.08L360.11 401.08Z" fill="#9050c8"/>
<path d="M365.24 404.88L367.05 401.75L363.42 401.75Z" fill="#9050c8"/>
<path d="M368.54 405.67L370.36 402.54L366.73 402.54Z" fill="#9050c8"/>
<path d="M371.85 406.57L373.67 403.44L370.04 403.44Z" fill="#9050c8"/>
<path d="M375.16 407.58L376.97 404.44L373.34 404.44Z" fill="#9050c8"/>
<path d="M378.47 408.69L380.28 405.56L376.65 405.56Z" fill="#9050c8"/>
<path d="M381.78 410.02L383.59 406.88L379.96 406.88Z" fill="#9050c8"/>
<path d="M385.08 411.57L386.9 408.43L383.27 408.43Z" fill="#9050c8"/>
<path d="M388.39 413.35L390.21 410.22L386.58 410.22Z" fill="#9050c8"/>
<path d="M391.7 415.36L393.51 412.23L389.88 412.23Z" fill="#9050c8"/>
<path d="M395.01 417.76L396.82 414.63L393.19 414.63Z" fill="#9050c8"/>
<path d="M398.32 420.77L400.13 417.64L396.5 417.64Z" fill="#9050c8"/>
<path d="M401.62 424.16L403.44 421.02L399.81 421.02Z" fill="#9050c8"/>
<path d="M404.93 427.67L406.75 424.53L403.12 424.53Z" fill="#9050c8"/>
<path d="M408.24 431.11L410.06 427.98L406.43 427.98Z" fill="#9050c8"/>
<path d="M411.55 434.69L413.36 431.55L409.73 431.55Z" fill="#9050c8"/>
<path d="M414.86 438.36L416.67 435.22L413.04 435.22Z" fill="#9050c8"/>
<path d="M418.16 442.02L419.98 438.88L416.35 438.88Z" fill="#9050c8"/>
<path d="M421.47 445.89L423.29 442.75L419.66 442.75Z" fill="#9050c8"/>
<path d="M424.78 449.76L426.59 446.63L422.96 446.63Z" fill="#9050c8"/>
<path d="M428.09 453.1L429.9 449.96L426.27 449.96Z" fill="#9050c8"/>
<path d="M431.4 455.76L433.21 452.63L429.58 452.63Z" fill="#9050c8"/>
<path d="M434.7 458.15L436.52 455.02L432.89 455.02Z" fill="#9050c8"/>
<path d="M438.01 460L439.83 456.86L436.2 456.86Z" fill="#9050c8"/>
<path d="M441.32 461.17L443.13 458.03L439.5 458.03Z" fill="#9050c8"/>
<path d="M444.63 462.05L446.44 458.91L442.81 458.91Z" fill="#9050c8"/>
<path d="M447.94 462.3L449.75 459.16L446.12 459.16Z" fill="#9050c8"/>
<path d="M451.24 461.83L453.06 458.69L449.43 458.69Z" fill="#9050c8"/>
<path d="M454.55 460.93L456.37 457.79L452.74 457.79Z" fill="#9050c8"/>
<path d="M457.86 459.86L459.68 456.72L456.05 456.72Z" fill="#9050c8"/>
<path d="M461.17 458.41L462.98 455.28L459.35 455.28Z" fill="#9050c8"/>
<path d="M464.48 456.41L466.29 453.27L462.66 453.27Z" fill="#9050c8"/>
<path d="M467.78 453.81L469.6 450.67L465.97 450.67Z" fill="#9050c8"/>
<path d="M471.09 449.68L472.91 446.54L469.28 446.54Z" fill="#9050c8"/>
<path d="M474.4 443.81L476.21 440.68L472.58 440.68Z" fill="#9050c8"/>
<rect x="321.5" y="456.1" width="3" height="3" fill="#e4161c"/>
<text x="337.8" y="462.1" font-size="9.5" textLength="16.3" lengthAdjust="spacingAndGlyphs">59.3</text>
<circle cx="323" cy="471.6" r="1.5" fill="#3a78c8"/>
<text x="337.8" y="476.1" font-size="9.5" textLength="16.3" lengthAdjust="spacingAndGlyphs">62.5</text>
<path d="M323 483.95L324.65 486.8L321.35 486.8Z" fill="#3aa84a"/>
<text x="337.8" y="490.1" font-size="9.5" textLength="16.3" lengthAdjust="spacingAndGlyphs">67.2</text>
<path d="M323 501.25L324.65 498.4L321.35 498.4Z" fill="#9050c8"/>
<text x="337.8" y="504.1" font-size="9.5" textLength="16.3" lengthAdjust="spacingAndGlyphs">69.8</text>
<rect x="414.6" y="377.4" width="59.8" height="48.6" fill="white" stroke="#111" stroke-width="1"/>
<line x1="414.6" y1="426" x2="414.6" y2="427" stroke="#111" stroke-width="0.6"/>
<text x="414.6" y="430.8" font-size="5.2" font-weight="bold" text-anchor="middle">58</text>
<line x1="423.62" y1="426" x2="423.62" y2="427" stroke="#111" stroke-width="0.6"/>
<text x="423.62" y="430.8" font-size="5.2" font-weight="bold" text-anchor="middle">60</text>
<line x1="432.64" y1="426" x2="432.64" y2="427" stroke="#111" stroke-width="0.6"/>
<text x="432.64" y="430.8" font-size="5.2" font-weight="bold" text-anchor="middle">62</text>
<line x1="441.66" y1="426" x2="441.66" y2="427" stroke="#111" stroke-width="0.6"/>
<text x="441.66" y="430.8" font-size="5.2" font-weight="bold" text-anchor="middle">64</text>
<line x1="450.68" y1="426" x2="450.68" y2="427" stroke="#111" stroke-width="0.6"/>
<text x="450.68" y="430.8" font-size="5.2" font-weight="bold" text-anchor="middle">66</text>
<line x1="459.7" y1="426" x2="459.7" y2="427" stroke="#111" stroke-width="0.6"/>
<text x="459.7" y="430.8" font-size="5.2" font-weight="bold" text-anchor="middle">68</text>
<line x1="468.72" y1="426" x2="468.72" y2="427" stroke="#111" stroke-width="0.6"/>
<text x="468.72" y="430.8" font-size="5.2" font-weight="bold" text-anchor="middle">70</text>
<line x1="413.6" y1="381.3" x2="414.6" y2="381.3" stroke="#111" stroke-width="0.6"/>
<text x="413" y="383.1" font-size="5.2" font-weight="bold" text-anchor="end">−35</text>
<line x1="413.6" y1="391.3" x2="414.6" y2="391.3" stroke="#111" stroke-width="0.6"/>
<text x="413" y="393.1" font-size="5.2" font-weight="bold" text-anchor="end">−40</text>
<line x1="413.6" y1="401.3" x2="414.6" y2="401.3" stroke="#111" stroke-width="0.6"/>
<text x="413" y="403.1" font-size="5.2" font-weight="bold" text-anchor="end">−45</text>
<line x1="413.6" y1="411.3" x2="414.6" y2="411.3" stroke="#111" stroke-width="0.6"/>
<text x="413" y="413.1" font-size="5.2" font-weight="bold" text-anchor="end">−50</text>
<line x1="413.6" y1="421.3" x2="414.6" y2="421.3" stroke="#111" stroke-width="0.6"/>
<text x="413" y="423.1" font-size="5.2" font-weight="bold" text-anchor="end">−55</text>
<text x="420.2" y="436.8" font-size="7.8" textLength="48" lengthAdjust="spacingAndGlyphs" stroke="#111" stroke-width="0.2">Hydration level, %</text>
<text x="404.6" y="414.8" font-size="6" font-weight="bold" textLength="26.6" lengthAdjust="spacingAndGlyphs" transform="rotate(-90 404.6 414.8)">Phase, deg</text>
<defs><radialGradient id="ball" cx="0.38" cy="0.35" r="0.7"><stop offset="0" stop-color="#ff9a9a"/><stop offset="0.45" stop-color="#f21818"/><stop offset="1" stop-color="#c00000"/></radialGradient></defs>
<circle cx="420.46" cy="421.3" r="1.9" fill="url(#ball)"/>
<circle cx="434.9" cy="414.3" r="1.9" fill="url(#ball)"/>
<circle cx="456.09" cy="405.3" r="1.9" fill="url(#ball)"/>
<circle cx="467.82" cy="386.3" r="1.9" fill="url(#ball)"/>
</svg>
</body></html>
